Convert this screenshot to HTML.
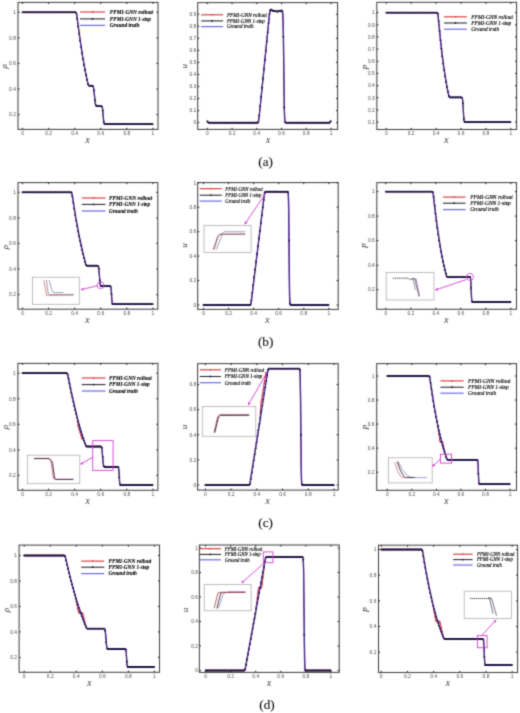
<!DOCTYPE html>
<html><head><meta charset="utf-8"><style>
html,body{margin:0;padding:0;background:#fff;width:520px;height:713px;overflow:hidden}
svg{display:block}

text{font-family:"Liberation Serif", "Times New Roman", serif}
.s{font-family:"Liberation Sans",Arial,sans-serif;fill:#4a4a4a}
</style></head><body><div id="w">
<svg width="520" height="713" viewBox="0 0 520 713">
<defs><filter id="bl" x="0" y="0" width="1" height="1" color-interpolation-filters="sRGB"><feConvolveMatrix order="3" kernelMatrix="1 4 1 4 16 4 1 4 1" divisor="36" edgeMode="duplicate"/></filter>
<marker id="mk" markerUnits="userSpaceOnUse" markerWidth="3" markerHeight="3" refX="1.5" refY="1.5" overflow="visible"><circle cx="1.5" cy="1.5" r="0.9" fill="#1a1440"/></marker>
<marker id="mr" markerUnits="userSpaceOnUse" markerWidth="3" markerHeight="3" refX="1.5" refY="1.5" overflow="visible"><circle cx="1.5" cy="1.5" r="0.7" fill="#c82828"/></marker></defs>
<g filter="url(#bl)"><rect width="520" height="713" fill="#fff"/>
<clipPath id="c0"><rect x="18" y="2.4" width="140" height="127.0"/></clipPath>
<g clip-path="url(#c0)">
<polyline points="22.5,12.3 75.0,12.3 75.6,12.3 76.0,12.5 76.3,13.0 76.6,14.2 76.9,16.3 79.9,38.5 82.8,57.5 85.4,71.9 88.0,84.1 88.4,85.0 88.7,85.5 89.0,85.6 92.3,85.8 92.9,86.2 93.2,86.9 93.6,88.1 93.9,90.2 95.2,102.6 95.5,104.3 95.9,105.3 96.2,105.8 96.8,106.1 101.4,106.3 101.7,106.4 102.0,106.8 102.4,108.0 102.7,110.5 103.7,121.6 104.0,123.2 104.3,123.9 104.7,124.1 105.6,124.2 152.9,124.2" fill="none" stroke="#e04a6a" stroke-width="1.35" stroke-linejoin="round"/>
<polyline points="22.5,12.3 23.5,12.3 24.5,12.3 25.4,12.3 26.4,12.3 27.4,12.3 28.4,12.3 29.3,12.3 30.3,12.3 31.3,12.3 32.3,12.3 33.3,12.3 34.2,12.3 35.2,12.3 36.2,12.3 37.2,12.3 38.1,12.3 39.1,12.3 40.1,12.3 41.1,12.3 42.1,12.3 43.0,12.3 44.0,12.3 45.0,12.3 46.0,12.3 47.0,12.3 47.9,12.3 48.9,12.3 49.9,12.3 50.9,12.3 51.8,12.3 52.8,12.3 53.8,12.3 54.8,12.3 55.8,12.3 56.7,12.3 57.7,12.3 58.7,12.3 59.7,12.3 60.6,12.3 61.6,12.3 62.6,12.3 63.6,12.3 64.6,12.3 65.5,12.3 66.5,12.3 67.5,12.3 68.5,12.3 69.4,12.3 70.4,12.3 71.4,12.3 72.4,12.3 73.4,12.3 74.3,12.3 75.3,12.3 76.3,13.0 77.3,18.8 78.2,26.5 79.2,33.8 80.2,40.7 81.2,47.3 82.2,53.5 83.1,59.4 84.1,65.0 85.1,70.2 86.1,75.2 87.0,79.8 88.0,84.1 89.0,85.6 90.0,85.7 91.0,85.7 91.9,85.7 92.9,86.2 93.9,90.2 94.9,100.0 95.9,105.3 96.8,106.1 97.8,106.2 98.8,106.2 99.8,106.2 100.7,106.2 101.7,106.4 102.7,110.5 103.7,121.6 104.7,124.1 105.6,124.2 106.6,124.2 107.6,124.2 108.6,124.2 109.5,124.2 110.5,124.2 111.5,124.2 112.5,124.2 113.5,124.2 114.4,124.2 115.4,124.2 116.4,124.2 117.4,124.2 118.3,124.2 119.3,124.2 120.3,124.2 121.3,124.2 122.3,124.2 123.2,124.2 124.2,124.2 125.2,124.2 126.2,124.2 127.1,124.2 128.1,124.2 129.1,124.2 130.1,124.2 131.1,124.2 132.0,124.2 133.0,124.2 134.0,124.2 135.0,124.2 135.9,124.2 136.9,124.2 137.9,124.2 138.9,124.2 139.9,124.2 140.8,124.2 141.8,124.2 142.8,124.2 143.8,124.2 144.8,124.2 145.7,124.2 146.7,124.2 147.7,124.2 148.7,124.2 149.6,124.2 150.6,124.2 151.6,124.2 152.6,124.2" fill="none" stroke="none" marker-start="url(#mr)" marker-mid="url(#mr)" marker-end="url(#mr)"/>
<polyline points="22.5,12.3 76.0,12.4 76.3,12.8 76.6,14.1 76.9,16.2 79.9,38.5 82.8,57.5 85.4,71.9 88.0,84.2 88.4,85.1 88.7,85.6 92.3,85.8 92.9,86.2 93.2,86.8 93.6,87.9 93.9,90.0 95.2,102.8 95.5,104.5 95.9,105.4 96.2,105.8 96.8,106.1 101.4,106.2 101.7,106.3 102.0,106.7 102.4,107.7 102.7,110.2 103.7,121.9 104.0,123.5 104.3,124.0 104.7,124.1 105.6,124.2 152.9,124.2" fill="none" stroke="#4a44c0" stroke-width="1.25" stroke-linejoin="round"/>
<polyline points="22.5,12.3 75.3,12.3 76.0,12.4 76.3,12.9 76.6,14.1 76.9,16.2 79.9,38.5 82.8,57.5 85.4,71.9 88.0,84.1 88.4,85.1 88.7,85.5 89.0,85.6 92.3,85.8 92.9,86.2 93.2,86.8 93.6,88.0 93.9,90.1 95.2,102.7 95.5,104.4 95.9,105.4 96.2,105.8 96.8,106.1 101.4,106.3 101.7,106.4 102.0,106.7 102.4,107.9 102.7,110.4 103.7,121.7 104.0,123.3 104.3,123.9 104.7,124.1 105.6,124.2 152.9,124.2" fill="none" stroke="#1c1648" stroke-width="0.45" stroke-linejoin="round"/>
<polyline points="22.5,12.3 23.5,12.3 24.5,12.3 25.4,12.3 26.4,12.3 27.4,12.3 28.4,12.3 29.3,12.3 30.3,12.3 31.3,12.3 32.3,12.3 33.3,12.3 34.2,12.3 35.2,12.3 36.2,12.3 37.2,12.3 38.1,12.3 39.1,12.3 40.1,12.3 41.1,12.3 42.1,12.3 43.0,12.3 44.0,12.3 45.0,12.3 46.0,12.3 47.0,12.3 47.9,12.3 48.9,12.3 49.9,12.3 50.9,12.3 51.8,12.3 52.8,12.3 53.8,12.3 54.8,12.3 55.8,12.3 56.7,12.3 57.7,12.3 58.7,12.3 59.7,12.3 60.6,12.3 61.6,12.3 62.6,12.3 63.6,12.3 64.6,12.3 65.5,12.3 66.5,12.3 67.5,12.3 68.5,12.3 69.4,12.3 70.4,12.3 71.4,12.3 72.4,12.3 73.4,12.3 74.3,12.3 75.3,12.3 76.3,12.9 77.3,18.8 78.2,26.5 79.2,33.8 80.2,40.7 81.2,47.3 82.2,53.5 83.1,59.4 84.1,65.0 85.1,70.2 86.1,75.2 87.0,79.8 88.0,84.1 89.0,85.6 90.0,85.7 91.0,85.7 91.9,85.7 92.9,86.2 93.9,90.1 94.9,100.1 95.9,105.4 96.8,106.1 97.8,106.2 98.8,106.2 99.8,106.2 100.7,106.2 101.7,106.4 102.7,110.4 103.7,121.7 104.7,124.1 105.6,124.2 106.6,124.2 107.6,124.2 108.6,124.2 109.5,124.2 110.5,124.2 111.5,124.2 112.5,124.2 113.5,124.2 114.4,124.2 115.4,124.2 116.4,124.2 117.4,124.2 118.3,124.2 119.3,124.2 120.3,124.2 121.3,124.2 122.3,124.2 123.2,124.2 124.2,124.2 125.2,124.2 126.2,124.2 127.1,124.2 128.1,124.2 129.1,124.2 130.1,124.2 131.1,124.2 132.0,124.2 133.0,124.2 134.0,124.2 135.0,124.2 135.9,124.2 136.9,124.2 137.9,124.2 138.9,124.2 139.9,124.2 140.8,124.2 141.8,124.2 142.8,124.2 143.8,124.2 144.8,124.2 145.7,124.2 146.7,124.2 147.7,124.2 148.7,124.2 149.6,124.2 150.6,124.2 151.6,124.2 152.6,124.2" fill="none" stroke="none" marker-start="url(#mk)" marker-mid="url(#mk)" marker-end="url(#mk)"/>
</g>
<rect x="18" y="2.4" width="140" height="127.0" fill="none" stroke="#444" stroke-width="1.05"/>
<text x="22.50" y="135.00" font-size="4.9" text-anchor="middle" class="s">0</text>
<text x="48.58" y="135.00" font-size="4.9" text-anchor="middle" class="s">0.2</text>
<text x="74.66" y="135.00" font-size="4.9" text-anchor="middle" class="s">0.4</text>
<text x="100.74" y="135.00" font-size="4.9" text-anchor="middle" class="s">0.6</text>
<text x="126.82" y="135.00" font-size="4.9" text-anchor="middle" class="s">0.8</text>
<text x="152.90" y="135.00" font-size="4.9" text-anchor="middle" class="s">1</text>
<text x="15.90" y="116.35" font-size="4.9" text-anchor="end" class="s">0.2</text>
<text x="15.90" y="90.77" font-size="4.9" text-anchor="end" class="s">0.4</text>
<text x="15.90" y="65.20" font-size="4.9" text-anchor="end" class="s">0.6</text>
<text x="15.90" y="39.62" font-size="4.9" text-anchor="end" class="s">0.8</text>
<text x="15.90" y="14.05" font-size="4.9" text-anchor="end" class="s">1</text>
<path d="M22.50 129.4v-1.6M22.50 2.4v1.6M48.58 129.4v-1.6M48.58 2.4v1.6M74.66 129.4v-1.6M74.66 2.4v1.6M100.74 129.4v-1.6M100.74 2.4v1.6M126.82 129.4v-1.6M126.82 2.4v1.6M152.90 129.4v-1.6M152.90 2.4v1.6M18 114.60h1.6M158 114.60h-1.6M18 89.02h1.6M158 89.02h-1.6M18 63.45h1.6M158 63.45h-1.6M18 37.87h1.6M158 37.87h-1.6M18 12.30h1.6M158 12.30h-1.6" stroke="#222" stroke-width="1"/>
<text x="7.5" y="66.3" font-size="9.2" font-style="italic" text-anchor="middle" fill="#333" transform="rotate(-90 7.5 66.3)">ρ</text>
<text x="87.70" y="143.20" font-size="9.6" font-style="italic" text-anchor="middle" fill="#3a3a3a">x</text>
<line x1="80" y1="12" x2="105" y2="12" stroke="#d82424" stroke-width="1.05"/>
<circle cx="92.50" cy="12" r="0.9" fill="#e04a6a"/>
<text x="109.7" y="13.8" font-size="5.3" font-style="italic" font-weight="bold" fill="#000" stroke="#000" stroke-width="0.1" textLength="43.4" lengthAdjust="spacingAndGlyphs">FFMI-GNN rollout</text>
<line x1="80" y1="18.9" x2="105" y2="18.9" stroke="#202020" stroke-width="1.05"/>
<circle cx="92.50" cy="18.9" r="0.9" fill="#1c1648"/>
<text x="109.7" y="20.7" font-size="5.3" font-style="italic" font-weight="bold" fill="#000" stroke="#000" stroke-width="0.1" textLength="41.3" lengthAdjust="spacingAndGlyphs">FFMI-GNN 1-step</text>
<line x1="80" y1="25.4" x2="105" y2="25.4" stroke="#6a6ae8" stroke-width="1.2"/>
<text x="109.7" y="27.2" font-size="5.3" font-style="italic" font-weight="bold" fill="#000" stroke="#000" stroke-width="0.1" textLength="29.9" lengthAdjust="spacingAndGlyphs">Ground truth</text>
<clipPath id="c1"><rect x="197.7" y="2.6" width="139.90000000000003" height="126.80000000000001"/></clipPath>
<g clip-path="url(#c1)">
<polyline points="207.3,121.3 207.6,121.5 208.2,122.5 208.5,122.6 209.2,122.7 257.1,122.7 257.7,122.7 258.0,122.5 258.3,121.9 258.6,120.5 259.3,115.3 269.5,14.2 270.1,10.6 270.4,9.9 270.7,9.6 271.0,9.4 271.3,9.6 272.6,10.7 275.3,11.0 277.2,11.6 279.0,11.0 281.5,10.5 281.8,10.6 282.1,10.9 282.4,11.8 282.8,14.6 283.1,22.1 283.4,37.7 284.3,106.4 284.6,116.7 284.9,120.9 285.2,122.2 285.5,122.6 286.5,122.7 328.8,122.7 329.5,122.6 329.8,122.5 330.7,121.1 331.0,120.9" fill="none" stroke="#e04a6a" stroke-width="1.35" stroke-linejoin="round"/>
<polyline points="207.3,121.3 208.2,122.5 209.2,122.7 210.1,122.7 211.0,122.7 211.9,122.7 212.9,122.7 213.8,122.7 214.7,122.7 215.6,122.7 216.6,122.7 217.5,122.7 218.4,122.7 219.4,122.7 220.3,122.7 221.2,122.7 222.1,122.7 223.1,122.7 224.0,122.7 224.9,122.7 225.9,122.7 226.8,122.7 227.7,122.7 228.6,122.7 229.6,122.7 230.5,122.7 231.4,122.7 232.3,122.7 233.3,122.7 234.2,122.7 235.1,122.7 236.1,122.7 237.0,122.7 237.9,122.7 238.8,122.7 239.8,122.7 240.7,122.7 241.6,122.7 242.6,122.7 243.5,122.7 244.4,122.7 245.3,122.7 246.3,122.7 247.2,122.7 248.1,122.7 249.0,122.7 250.0,122.7 250.9,122.7 251.8,122.7 252.8,122.7 253.7,122.7 254.6,122.7 255.5,122.7 256.5,122.7 257.4,122.7 258.3,121.9 259.3,115.3 260.2,106.1 261.1,96.9 262.0,87.7 263.0,78.5 263.9,69.3 264.8,60.0 265.7,50.8 266.7,41.6 267.6,32.4 268.5,23.2 269.5,14.2 270.4,9.9 271.3,9.6 272.2,10.5 273.2,10.9 274.1,10.9 275.0,11.0 276.0,11.2 276.9,11.6 277.8,11.5 278.7,11.1 279.7,10.9 280.6,10.8 281.5,10.5 282.4,11.8 283.4,37.7 284.3,106.4 285.2,122.2 286.2,122.7 287.1,122.7 288.0,122.7 288.9,122.7 289.9,122.7 290.8,122.7 291.7,122.7 292.7,122.7 293.6,122.7 294.5,122.7 295.4,122.7 296.4,122.7 297.3,122.7 298.2,122.7 299.1,122.7 300.1,122.7 301.0,122.7 301.9,122.7 302.9,122.7 303.8,122.7 304.7,122.7 305.6,122.7 306.6,122.7 307.5,122.7 308.4,122.7 309.4,122.7 310.3,122.7 311.2,122.7 312.1,122.7 313.1,122.7 314.0,122.7 314.9,122.7 315.8,122.7 316.8,122.7 317.7,122.7 318.6,122.7 319.6,122.7 320.5,122.7 321.4,122.7 322.3,122.7 323.3,122.7 324.2,122.7 325.1,122.7 326.1,122.7 327.0,122.7 327.9,122.7 328.8,122.7 329.8,122.5 330.7,121.1" fill="none" stroke="none" marker-start="url(#mr)" marker-mid="url(#mr)" marker-end="url(#mr)"/>
<polyline points="207.3,121.3 207.6,121.5 208.2,122.5 208.5,122.6 209.2,122.7 257.4,122.7 258.0,122.6 258.3,122.1 258.6,120.7 259.3,115.3 269.5,14.0 269.8,11.6 270.1,10.4 270.4,9.9 270.7,9.6 271.0,9.4 271.3,9.6 272.6,10.7 275.3,11.0 277.2,11.6 279.0,11.0 280.3,10.8 281.2,10.6 281.8,10.6 282.1,10.9 282.4,11.5 282.8,13.6 283.1,20.1 283.4,35.5 284.3,108.6 284.6,118.1 284.9,121.4 285.2,122.4 285.5,122.6 286.5,122.7 328.8,122.7 329.5,122.6 329.8,122.5 330.7,121.1 331.0,120.9" fill="none" stroke="#4a44c0" stroke-width="1.25" stroke-linejoin="round"/>
<polyline points="207.3,121.3 207.6,121.5 208.2,122.5 208.5,122.6 209.2,122.7 257.4,122.7 258.0,122.6 258.3,122.0 258.6,120.6 259.3,115.3 269.5,14.1 269.8,11.8 270.1,10.5 270.4,9.9 270.7,9.6 271.0,9.4 271.3,9.6 272.6,10.7 275.3,11.0 277.2,11.6 279.0,11.0 280.3,10.8 281.2,10.6 281.8,10.6 282.1,10.9 282.4,11.7 282.8,14.1 283.1,21.1 283.4,36.6 284.3,107.5 284.6,117.5 284.9,121.2 285.2,122.3 285.5,122.6 286.5,122.7 328.8,122.7 329.5,122.6 329.8,122.5 330.7,121.1 331.0,120.9" fill="none" stroke="#1c1648" stroke-width="0.45" stroke-linejoin="round"/>
<polyline points="207.3,121.3 208.2,122.5 209.2,122.7 210.1,122.7 211.0,122.7 211.9,122.7 212.9,122.7 213.8,122.7 214.7,122.7 215.6,122.7 216.6,122.7 217.5,122.7 218.4,122.7 219.4,122.7 220.3,122.7 221.2,122.7 222.1,122.7 223.1,122.7 224.0,122.7 224.9,122.7 225.9,122.7 226.8,122.7 227.7,122.7 228.6,122.7 229.6,122.7 230.5,122.7 231.4,122.7 232.3,122.7 233.3,122.7 234.2,122.7 235.1,122.7 236.1,122.7 237.0,122.7 237.9,122.7 238.8,122.7 239.8,122.7 240.7,122.7 241.6,122.7 242.6,122.7 243.5,122.7 244.4,122.7 245.3,122.7 246.3,122.7 247.2,122.7 248.1,122.7 249.0,122.7 250.0,122.7 250.9,122.7 251.8,122.7 252.8,122.7 253.7,122.7 254.6,122.7 255.5,122.7 256.5,122.7 257.4,122.7 258.3,122.0 259.3,115.3 260.2,106.1 261.1,96.9 262.0,87.7 263.0,78.5 263.9,69.3 264.8,60.0 265.7,50.8 266.7,41.6 267.6,32.4 268.5,23.2 269.5,14.1 270.4,9.9 271.3,9.6 272.2,10.5 273.2,10.9 274.1,10.9 275.0,11.0 276.0,11.2 276.9,11.6 277.8,11.5 278.7,11.1 279.7,10.9 280.6,10.8 281.5,10.5 282.4,11.7 283.4,36.6 284.3,107.5 285.2,122.3 286.2,122.7 287.1,122.7 288.0,122.7 288.9,122.7 289.9,122.7 290.8,122.7 291.7,122.7 292.7,122.7 293.6,122.7 294.5,122.7 295.4,122.7 296.4,122.7 297.3,122.7 298.2,122.7 299.1,122.7 300.1,122.7 301.0,122.7 301.9,122.7 302.9,122.7 303.8,122.7 304.7,122.7 305.6,122.7 306.6,122.7 307.5,122.7 308.4,122.7 309.4,122.7 310.3,122.7 311.2,122.7 312.1,122.7 313.1,122.7 314.0,122.7 314.9,122.7 315.8,122.7 316.8,122.7 317.7,122.7 318.6,122.7 319.6,122.7 320.5,122.7 321.4,122.7 322.3,122.7 323.3,122.7 324.2,122.7 325.1,122.7 326.1,122.7 327.0,122.7 327.9,122.7 328.8,122.7 329.8,122.5 330.7,121.1" fill="none" stroke="none" marker-start="url(#mk)" marker-mid="url(#mk)" marker-end="url(#mk)"/>
</g>
<rect x="197.7" y="2.6" width="139.90000000000003" height="126.80000000000001" fill="none" stroke="#444" stroke-width="1.05"/>
<text x="207.30" y="135.00" font-size="4.9" text-anchor="middle" class="s">0</text>
<text x="232.04" y="135.00" font-size="4.9" text-anchor="middle" class="s">0.2</text>
<text x="256.78" y="135.00" font-size="4.9" text-anchor="middle" class="s">0.4</text>
<text x="281.52" y="135.00" font-size="4.9" text-anchor="middle" class="s">0.6</text>
<text x="306.26" y="135.00" font-size="4.9" text-anchor="middle" class="s">0.8</text>
<text x="331.00" y="135.00" font-size="4.9" text-anchor="middle" class="s">1</text>
<text x="196.30" y="124.45" font-size="4.9" text-anchor="end" class="s">0</text>
<text x="196.30" y="112.39" font-size="4.9" text-anchor="end" class="s">0.1</text>
<text x="196.30" y="100.34" font-size="4.9" text-anchor="end" class="s">0.2</text>
<text x="196.30" y="88.28" font-size="4.9" text-anchor="end" class="s">0.3</text>
<text x="196.30" y="76.23" font-size="4.9" text-anchor="end" class="s">0.4</text>
<text x="196.30" y="64.17" font-size="4.9" text-anchor="end" class="s">0.5</text>
<text x="196.30" y="52.12" font-size="4.9" text-anchor="end" class="s">0.6</text>
<text x="196.30" y="40.06" font-size="4.9" text-anchor="end" class="s">0.7</text>
<text x="196.30" y="28.01" font-size="4.9" text-anchor="end" class="s">0.8</text>
<text x="196.30" y="15.95" font-size="4.9" text-anchor="end" class="s">0.9</text>
<path d="M207.30 129.4v-1.6M207.30 2.6v1.6M232.04 129.4v-1.6M232.04 2.6v1.6M256.78 129.4v-1.6M256.78 2.6v1.6M281.52 129.4v-1.6M281.52 2.6v1.6M306.26 129.4v-1.6M306.26 2.6v1.6M331.00 129.4v-1.6M331.00 2.6v1.6M197.7 122.70h1.6M337.6 122.70h-1.6M197.7 110.64h1.6M337.6 110.64h-1.6M197.7 98.59h1.6M337.6 98.59h-1.6M197.7 86.53h1.6M337.6 86.53h-1.6M197.7 74.48h1.6M337.6 74.48h-1.6M197.7 62.42h1.6M337.6 62.42h-1.6M197.7 50.37h1.6M337.6 50.37h-1.6M197.7 38.31h1.6M337.6 38.31h-1.6M197.7 26.26h1.6M337.6 26.26h-1.6M197.7 14.20h1.6M337.6 14.20h-1.6" stroke="#222" stroke-width="1"/>
<text x="186.6" y="66.3" font-size="9.2" font-style="italic" text-anchor="middle" fill="#333" transform="rotate(-90 186.6 66.3)">u</text>
<text x="268.10" y="143.20" font-size="9.6" font-style="italic" text-anchor="middle" fill="#3a3a3a">x</text>
<line x1="201.2" y1="14.8" x2="223.1" y2="14.8" stroke="#d82424" stroke-width="1.05"/>
<circle cx="212.15" cy="14.8" r="0.9" fill="#e04a6a"/>
<text x="226.9" y="16.6" font-size="5.3" font-style="italic" font-weight="normal" fill="#000" stroke="#000" stroke-width="0.14" textLength="40" lengthAdjust="spacingAndGlyphs">FFMI-GNN rollout</text>
<line x1="201.2" y1="20.9" x2="223.1" y2="20.9" stroke="#202020" stroke-width="1.05"/>
<circle cx="212.15" cy="20.9" r="0.9" fill="#1c1648"/>
<text x="226.9" y="22.7" font-size="5.3" font-style="italic" font-weight="normal" fill="#000" stroke="#000" stroke-width="0.14" textLength="38" lengthAdjust="spacingAndGlyphs">FFMI-GNN 1-step</text>
<line x1="201.2" y1="26.6" x2="223.1" y2="26.6" stroke="#6a6ae8" stroke-width="1.2"/>
<text x="226.9" y="28.400000000000002" font-size="5.3" font-style="italic" font-weight="normal" fill="#000" stroke="#000" stroke-width="0.14" textLength="26.6" lengthAdjust="spacingAndGlyphs">Ground truth</text>
<clipPath id="c2"><rect x="376.8" y="2.3" width="139.8" height="127.2"/></clipPath>
<g clip-path="url(#c2)">
<polyline points="386.3,12.6 436.4,12.6 437.0,12.6 437.3,12.8 437.7,13.5 438.0,15.2 441.1,45.9 443.6,66.0 446.1,82.0 447.6,90.2 448.9,95.9 449.2,96.8 449.5,97.2 449.8,97.4 461.0,97.4 461.6,97.4 461.9,97.6 462.2,98.2 462.6,99.9 462.9,103.3 463.8,118.5 464.1,120.8 464.4,121.7 464.7,122.0 465.7,122.1 510.8,122.1" fill="none" stroke="#e04a6a" stroke-width="1.35" stroke-linejoin="round"/>
<polyline points="386.3,12.6 387.2,12.6 388.2,12.6 389.1,12.6 390.0,12.6 391.0,12.6 391.9,12.6 392.8,12.6 393.8,12.6 394.7,12.6 395.6,12.6 396.6,12.6 397.5,12.6 398.4,12.6 399.4,12.6 400.3,12.6 401.2,12.6 402.2,12.6 403.1,12.6 404.0,12.6 405.0,12.6 405.9,12.6 406.8,12.6 407.8,12.6 408.7,12.6 409.6,12.6 410.6,12.6 411.5,12.6 412.4,12.6 413.4,12.6 414.3,12.6 415.2,12.6 416.2,12.6 417.1,12.6 418.0,12.6 419.0,12.6 419.9,12.6 420.8,12.6 421.8,12.6 422.7,12.6 423.7,12.6 424.6,12.6 425.5,12.6 426.5,12.6 427.4,12.6 428.3,12.6 429.3,12.6 430.2,12.6 431.1,12.6 432.1,12.6 433.0,12.6 433.9,12.6 434.9,12.6 435.8,12.6 436.7,12.6 437.7,13.5 438.6,21.1 439.5,31.0 440.5,40.2 441.4,48.7 442.3,56.5 443.3,63.7 444.2,70.3 445.1,76.4 446.1,82.0 447.0,87.1 447.9,91.7 448.9,95.9 449.8,97.4 450.7,97.4 451.7,97.4 452.6,97.4 453.5,97.4 454.5,97.4 455.4,97.4 456.3,97.4 457.3,97.4 458.2,97.4 459.1,97.4 460.1,97.4 461.0,97.4 461.9,97.6 462.9,103.3 463.8,118.5 464.7,122.0 465.7,122.1 466.6,122.1 467.5,122.1 468.5,122.1 469.4,122.1 470.3,122.1 471.3,122.1 472.2,122.1 473.1,122.1 474.1,122.1 475.0,122.1 475.9,122.1 476.9,122.1 477.8,122.1 478.7,122.1 479.7,122.1 480.6,122.1 481.5,122.1 482.5,122.1 483.4,122.1 484.3,122.1 485.3,122.1 486.2,122.1 487.1,122.1 488.1,122.1 489.0,122.1 489.9,122.1 490.9,122.1 491.8,122.1 492.7,122.1 493.7,122.1 494.6,122.1 495.5,122.1 496.5,122.1 497.4,122.1 498.4,122.1 499.3,122.1 500.2,122.1 501.2,122.1 502.1,122.1 503.0,122.1 504.0,122.1 504.9,122.1 505.8,122.1 506.8,122.1 507.7,122.1 508.6,122.1 509.6,122.1 510.5,122.1" fill="none" stroke="none" marker-start="url(#mr)" marker-mid="url(#mr)" marker-end="url(#mr)"/>
<polyline points="386.3,12.6 436.7,12.6 437.3,12.7 437.7,13.3 438.0,14.9 440.8,43.1 442.0,54.0 443.6,66.0 446.1,82.0 447.6,90.2 448.9,95.9 449.2,96.9 449.5,97.3 449.8,97.4 461.3,97.4 461.9,97.5 462.2,98.0 462.6,99.4 462.9,102.8 463.8,119.0 464.1,121.1 464.4,121.8 464.7,122.0 465.7,122.1 510.8,122.1" fill="none" stroke="#4a44c0" stroke-width="1.25" stroke-linejoin="round"/>
<polyline points="386.3,12.6 436.7,12.6 437.3,12.7 437.7,13.4 438.0,15.0 440.8,43.1 442.0,54.0 443.6,66.0 446.1,82.0 447.6,90.2 448.9,95.9 449.2,96.8 449.5,97.3 449.8,97.4 461.0,97.4 461.6,97.4 461.9,97.6 462.2,98.1 462.6,99.6 462.9,103.1 463.8,118.7 464.1,120.9 464.4,121.8 464.7,122.0 465.7,122.1 510.8,122.1" fill="none" stroke="#1c1648" stroke-width="0.45" stroke-linejoin="round"/>
<polyline points="386.3,12.6 387.2,12.6 388.2,12.6 389.1,12.6 390.0,12.6 391.0,12.6 391.9,12.6 392.8,12.6 393.8,12.6 394.7,12.6 395.6,12.6 396.6,12.6 397.5,12.6 398.4,12.6 399.4,12.6 400.3,12.6 401.2,12.6 402.2,12.6 403.1,12.6 404.0,12.6 405.0,12.6 405.9,12.6 406.8,12.6 407.8,12.6 408.7,12.6 409.6,12.6 410.6,12.6 411.5,12.6 412.4,12.6 413.4,12.6 414.3,12.6 415.2,12.6 416.2,12.6 417.1,12.6 418.0,12.6 419.0,12.6 419.9,12.6 420.8,12.6 421.8,12.6 422.7,12.6 423.7,12.6 424.6,12.6 425.5,12.6 426.5,12.6 427.4,12.6 428.3,12.6 429.3,12.6 430.2,12.6 431.1,12.6 432.1,12.6 433.0,12.6 433.9,12.6 434.9,12.6 435.8,12.6 436.7,12.6 437.7,13.4 438.6,21.1 439.5,31.0 440.5,40.2 441.4,48.7 442.3,56.5 443.3,63.7 444.2,70.3 445.1,76.4 446.1,82.0 447.0,87.1 447.9,91.7 448.9,95.9 449.8,97.4 450.7,97.4 451.7,97.4 452.6,97.4 453.5,97.4 454.5,97.4 455.4,97.4 456.3,97.4 457.3,97.4 458.2,97.4 459.1,97.4 460.1,97.4 461.0,97.4 461.9,97.6 462.9,103.1 463.8,118.7 464.7,122.0 465.7,122.1 466.6,122.1 467.5,122.1 468.5,122.1 469.4,122.1 470.3,122.1 471.3,122.1 472.2,122.1 473.1,122.1 474.1,122.1 475.0,122.1 475.9,122.1 476.9,122.1 477.8,122.1 478.7,122.1 479.7,122.1 480.6,122.1 481.5,122.1 482.5,122.1 483.4,122.1 484.3,122.1 485.3,122.1 486.2,122.1 487.1,122.1 488.1,122.1 489.0,122.1 489.9,122.1 490.9,122.1 491.8,122.1 492.7,122.1 493.7,122.1 494.6,122.1 495.5,122.1 496.5,122.1 497.4,122.1 498.4,122.1 499.3,122.1 500.2,122.1 501.2,122.1 502.1,122.1 503.0,122.1 504.0,122.1 504.9,122.1 505.8,122.1 506.8,122.1 507.7,122.1 508.6,122.1 509.6,122.1 510.5,122.1" fill="none" stroke="none" marker-start="url(#mk)" marker-mid="url(#mk)" marker-end="url(#mk)"/>
</g>
<rect x="376.8" y="2.3" width="139.8" height="127.2" fill="none" stroke="#444" stroke-width="1.05"/>
<text x="386.30" y="135.10" font-size="4.9" text-anchor="middle" class="s">0</text>
<text x="411.20" y="135.10" font-size="4.9" text-anchor="middle" class="s">0.2</text>
<text x="436.10" y="135.10" font-size="4.9" text-anchor="middle" class="s">0.4</text>
<text x="461.00" y="135.10" font-size="4.9" text-anchor="middle" class="s">0.6</text>
<text x="485.90" y="135.10" font-size="4.9" text-anchor="middle" class="s">0.8</text>
<text x="510.80" y="135.10" font-size="4.9" text-anchor="middle" class="s">1</text>
<text x="374.70" y="123.85" font-size="4.9" text-anchor="end" class="s">0.1</text>
<text x="374.70" y="111.68" font-size="4.9" text-anchor="end" class="s">0.2</text>
<text x="374.70" y="99.52" font-size="4.9" text-anchor="end" class="s">0.3</text>
<text x="374.70" y="87.35" font-size="4.9" text-anchor="end" class="s">0.4</text>
<text x="374.70" y="75.18" font-size="4.9" text-anchor="end" class="s">0.5</text>
<text x="374.70" y="63.02" font-size="4.9" text-anchor="end" class="s">0.6</text>
<text x="374.70" y="50.85" font-size="4.9" text-anchor="end" class="s">0.7</text>
<text x="374.70" y="38.68" font-size="4.9" text-anchor="end" class="s">0.8</text>
<text x="374.70" y="26.52" font-size="4.9" text-anchor="end" class="s">0.9</text>
<text x="374.70" y="14.35" font-size="4.9" text-anchor="end" class="s">1</text>
<path d="M386.30 129.5v-1.6M386.30 2.3v1.6M411.20 129.5v-1.6M411.20 2.3v1.6M436.10 129.5v-1.6M436.10 2.3v1.6M461.00 129.5v-1.6M461.00 2.3v1.6M485.90 129.5v-1.6M485.90 2.3v1.6M510.80 129.5v-1.6M510.80 2.3v1.6M376.8 122.10h1.6M516.6 122.10h-1.6M376.8 109.93h1.6M516.6 109.93h-1.6M376.8 97.77h1.6M516.6 97.77h-1.6M376.8 85.60h1.6M516.6 85.60h-1.6M376.8 73.43h1.6M516.6 73.43h-1.6M376.8 61.27h1.6M516.6 61.27h-1.6M376.8 49.10h1.6M516.6 49.10h-1.6M376.8 36.93h1.6M516.6 36.93h-1.6M376.8 24.77h1.6M516.6 24.77h-1.6M376.8 12.60h1.6M516.6 12.60h-1.6" stroke="#222" stroke-width="1"/>
<text x="366.5" y="67" font-size="9.2" font-style="italic" text-anchor="middle" fill="#333" transform="rotate(-90 366.5 67)">p</text>
<text x="446.50" y="143.30" font-size="9.6" font-style="italic" text-anchor="middle" fill="#3a3a3a">x</text>
<line x1="444" y1="16.8" x2="466.9" y2="16.8" stroke="#d82424" stroke-width="1.05"/>
<circle cx="455.45" cy="16.8" r="0.9" fill="#e04a6a"/>
<text x="471.3" y="18.6" font-size="5.3" font-style="italic" font-weight="normal" fill="#000" stroke="#000" stroke-width="0.14" textLength="41.8" lengthAdjust="spacingAndGlyphs">FFMI-GNN rollout</text>
<line x1="444" y1="23" x2="466.9" y2="23" stroke="#202020" stroke-width="1.05"/>
<circle cx="455.45" cy="23" r="0.9" fill="#1c1648"/>
<text x="471.3" y="24.8" font-size="5.3" font-style="italic" font-weight="normal" fill="#000" stroke="#000" stroke-width="0.14" textLength="40" lengthAdjust="spacingAndGlyphs">FFMI-GNN 1-step</text>
<line x1="444" y1="29.2" x2="466.9" y2="29.2" stroke="#6a6ae8" stroke-width="1.2"/>
<text x="471.3" y="31.0" font-size="5.3" font-style="italic" font-weight="normal" fill="#000" stroke="#000" stroke-width="0.14" textLength="27.9" lengthAdjust="spacingAndGlyphs">Ground truth</text>
<clipPath id="c3"><rect x="18" y="182.6" width="139.8" height="126.6"/></clipPath>
<g clip-path="url(#c3)">
<polyline points="22.5,192.3 70.4,192.3 71.1,192.3 71.4,192.5 71.7,193.2 72.1,194.5 75.6,217.0 79.2,236.4 82.5,251.5 85.7,264.1 86.1,265.0 86.4,265.4 86.7,265.6 97.2,265.7 97.8,265.8 98.1,266.0 98.5,266.8 98.8,268.5 99.8,280.2 100.1,283.4 100.4,285.1 100.7,285.8 101.4,286.2 109.9,286.2 110.5,286.4 110.8,287.1 111.2,289.4 111.8,299.3 112.2,302.6 112.5,303.9 112.8,304.2 113.5,304.2 152.9,304.2" fill="none" stroke="#e04a6a" stroke-width="1.35" stroke-linejoin="round"/>
<polyline points="22.5,192.3 23.5,192.3 24.5,192.3 25.4,192.3 26.4,192.3 27.4,192.3 28.4,192.3 29.3,192.3 30.3,192.3 31.3,192.3 32.3,192.3 33.3,192.3 34.2,192.3 35.2,192.3 36.2,192.3 37.2,192.3 38.1,192.3 39.1,192.3 40.1,192.3 41.1,192.3 42.1,192.3 43.0,192.3 44.0,192.3 45.0,192.3 46.0,192.3 47.0,192.3 47.9,192.3 48.9,192.3 49.9,192.3 50.9,192.3 51.8,192.3 52.8,192.3 53.8,192.3 54.8,192.3 55.8,192.3 56.7,192.3 57.7,192.3 58.7,192.3 59.7,192.3 60.6,192.3 61.6,192.3 62.6,192.3 63.6,192.3 64.6,192.3 65.5,192.3 66.5,192.3 67.5,192.3 68.5,192.3 69.4,192.3 70.4,192.3 71.4,192.5 72.4,196.4 73.4,202.8 74.3,209.1 75.3,215.1 76.3,220.8 77.3,226.2 78.2,231.5 79.2,236.4 80.2,241.2 81.2,245.7 82.2,250.1 83.1,254.2 84.1,258.1 85.1,261.9 86.1,265.0 87.0,265.7 88.0,265.7 89.0,265.7 90.0,265.7 91.0,265.7 91.9,265.7 92.9,265.7 93.9,265.7 94.9,265.7 95.9,265.7 96.8,265.7 97.8,265.8 98.8,268.5 99.8,280.2 100.7,285.8 101.7,286.2 102.7,286.2 103.7,286.2 104.7,286.2 105.6,286.2 106.6,286.2 107.6,286.2 108.6,286.2 109.5,286.2 110.5,286.4 111.5,294.0 112.5,303.9 113.5,304.2 114.4,304.2 115.4,304.2 116.4,304.2 117.4,304.2 118.3,304.2 119.3,304.2 120.3,304.2 121.3,304.2 122.3,304.2 123.2,304.2 124.2,304.2 125.2,304.2 126.2,304.2 127.1,304.2 128.1,304.2 129.1,304.2 130.1,304.2 131.1,304.2 132.0,304.2 133.0,304.2 134.0,304.2 135.0,304.2 135.9,304.2 136.9,304.2 137.9,304.2 138.9,304.2 139.9,304.2 140.8,304.2 141.8,304.2 142.8,304.2 143.8,304.2 144.8,304.2 145.7,304.2 146.7,304.2 147.7,304.2 148.7,304.2 149.6,304.2 150.6,304.2 151.6,304.2 152.6,304.2" fill="none" stroke="none" marker-start="url(#mr)" marker-mid="url(#mr)" marker-end="url(#mr)"/>
<polyline points="22.5,192.3 70.7,192.3 71.4,192.4 71.7,193.0 72.1,194.4 75.6,217.0 79.2,236.4 82.5,251.5 85.7,264.2 86.1,265.1 86.4,265.5 86.7,265.6 97.2,265.7 97.8,265.7 98.1,265.9 98.5,266.6 98.8,268.1 99.8,280.5 100.1,283.7 100.4,285.3 100.7,285.9 101.4,286.2 110.2,286.2 110.5,286.3 110.8,286.7 111.2,288.8 111.8,299.8 112.2,303.2 112.5,304.1 113.1,304.2 152.9,304.2" fill="none" stroke="#4a44c0" stroke-width="1.25" stroke-linejoin="round"/>
<polyline points="22.5,192.3 70.7,192.3 71.4,192.5 71.7,193.1 72.1,194.4 75.6,217.0 79.2,236.4 82.5,251.5 85.7,264.2 86.1,265.0 86.4,265.5 86.7,265.6 97.2,265.7 97.8,265.8 98.1,266.0 98.5,266.7 98.8,268.3 99.8,280.4 100.1,283.6 100.4,285.2 100.7,285.9 101.4,286.2 110.5,286.3 110.8,286.9 111.2,289.1 111.8,299.5 112.2,302.9 112.5,304.0 113.1,304.2 152.9,304.2" fill="none" stroke="#1c1648" stroke-width="0.45" stroke-linejoin="round"/>
<polyline points="22.5,192.3 23.5,192.3 24.5,192.3 25.4,192.3 26.4,192.3 27.4,192.3 28.4,192.3 29.3,192.3 30.3,192.3 31.3,192.3 32.3,192.3 33.3,192.3 34.2,192.3 35.2,192.3 36.2,192.3 37.2,192.3 38.1,192.3 39.1,192.3 40.1,192.3 41.1,192.3 42.1,192.3 43.0,192.3 44.0,192.3 45.0,192.3 46.0,192.3 47.0,192.3 47.9,192.3 48.9,192.3 49.9,192.3 50.9,192.3 51.8,192.3 52.8,192.3 53.8,192.3 54.8,192.3 55.8,192.3 56.7,192.3 57.7,192.3 58.7,192.3 59.7,192.3 60.6,192.3 61.6,192.3 62.6,192.3 63.6,192.3 64.6,192.3 65.5,192.3 66.5,192.3 67.5,192.3 68.5,192.3 69.4,192.3 70.4,192.3 71.4,192.5 72.4,196.4 73.4,202.8 74.3,209.1 75.3,215.1 76.3,220.8 77.3,226.2 78.2,231.5 79.2,236.4 80.2,241.2 81.2,245.7 82.2,250.1 83.1,254.2 84.1,258.1 85.1,261.9 86.1,265.0 87.0,265.7 88.0,265.7 89.0,265.7 90.0,265.7 91.0,265.7 91.9,265.7 92.9,265.7 93.9,265.7 94.9,265.7 95.9,265.7 96.8,265.7 97.8,265.8 98.8,268.3 99.8,280.4 100.7,285.9 101.7,286.2 102.7,286.2 103.7,286.2 104.7,286.2 105.6,286.2 106.6,286.2 107.6,286.2 108.6,286.2 109.5,286.2 110.5,286.3 111.5,293.9 112.5,304.0 113.5,304.2 114.4,304.2 115.4,304.2 116.4,304.2 117.4,304.2 118.3,304.2 119.3,304.2 120.3,304.2 121.3,304.2 122.3,304.2 123.2,304.2 124.2,304.2 125.2,304.2 126.2,304.2 127.1,304.2 128.1,304.2 129.1,304.2 130.1,304.2 131.1,304.2 132.0,304.2 133.0,304.2 134.0,304.2 135.0,304.2 135.9,304.2 136.9,304.2 137.9,304.2 138.9,304.2 139.9,304.2 140.8,304.2 141.8,304.2 142.8,304.2 143.8,304.2 144.8,304.2 145.7,304.2 146.7,304.2 147.7,304.2 148.7,304.2 149.6,304.2 150.6,304.2 151.6,304.2 152.6,304.2" fill="none" stroke="none" marker-start="url(#mk)" marker-mid="url(#mk)" marker-end="url(#mk)"/>
</g>
<rect x="18" y="182.6" width="139.8" height="126.6" fill="none" stroke="#444" stroke-width="1.05"/>
<text x="22.50" y="314.80" font-size="4.9" text-anchor="middle" class="s">0</text>
<text x="48.58" y="314.80" font-size="4.9" text-anchor="middle" class="s">0.2</text>
<text x="74.66" y="314.80" font-size="4.9" text-anchor="middle" class="s">0.4</text>
<text x="100.74" y="314.80" font-size="4.9" text-anchor="middle" class="s">0.6</text>
<text x="126.82" y="314.80" font-size="4.9" text-anchor="middle" class="s">0.8</text>
<text x="152.90" y="314.80" font-size="4.9" text-anchor="middle" class="s">1</text>
<text x="15.90" y="296.35" font-size="4.9" text-anchor="end" class="s">0.2</text>
<text x="15.90" y="270.77" font-size="4.9" text-anchor="end" class="s">0.4</text>
<text x="15.90" y="245.20" font-size="4.9" text-anchor="end" class="s">0.6</text>
<text x="15.90" y="219.62" font-size="4.9" text-anchor="end" class="s">0.8</text>
<text x="15.90" y="194.05" font-size="4.9" text-anchor="end" class="s">1</text>
<path d="M22.50 309.2v-1.6M22.50 182.6v1.6M48.58 309.2v-1.6M48.58 182.6v1.6M74.66 309.2v-1.6M74.66 182.6v1.6M100.74 309.2v-1.6M100.74 182.6v1.6M126.82 309.2v-1.6M126.82 182.6v1.6M152.90 309.2v-1.6M152.90 182.6v1.6M18 294.60h1.6M157.8 294.60h-1.6M18 269.02h1.6M157.8 269.02h-1.6M18 243.45h1.6M157.8 243.45h-1.6M18 217.88h1.6M157.8 217.88h-1.6M18 192.30h1.6M157.8 192.30h-1.6" stroke="#222" stroke-width="1"/>
<text x="7.5" y="247" font-size="9.2" font-style="italic" text-anchor="middle" fill="#333" transform="rotate(-90 7.5 247)">ρ</text>
<text x="87.50" y="323.00" font-size="9.6" font-style="italic" text-anchor="middle" fill="#3a3a3a">x</text>
<line x1="81.8" y1="198" x2="105.5" y2="198" stroke="#d82424" stroke-width="1.05"/>
<circle cx="93.65" cy="198" r="0.9" fill="#e04a6a"/>
<text x="108.9" y="199.8" font-size="5.3" font-style="italic" font-weight="bold" fill="#000" stroke="#000" stroke-width="0.1" textLength="43.3" lengthAdjust="spacingAndGlyphs">FFMI-GNN rollout</text>
<line x1="81.8" y1="204.4" x2="105.5" y2="204.4" stroke="#202020" stroke-width="1.05"/>
<circle cx="93.65" cy="204.4" r="0.9" fill="#1c1648"/>
<text x="108.9" y="206.20000000000002" font-size="5.3" font-style="italic" font-weight="bold" fill="#000" stroke="#000" stroke-width="0.1" textLength="41.2" lengthAdjust="spacingAndGlyphs">FFMI-GNN 1-step</text>
<line x1="81.8" y1="211" x2="105.5" y2="211" stroke="#6a6ae8" stroke-width="1.2"/>
<text x="108.9" y="212.8" font-size="5.3" font-style="italic" font-weight="bold" fill="#000" stroke="#000" stroke-width="0.1" textLength="28.9" lengthAdjust="spacingAndGlyphs">Ground truth</text>
<rect x="32.4" y="277.2" width="46.9" height="27.100000000000023" fill="#fff" stroke="#ababab" stroke-width="0.75"/>
<polyline points="43.8,280.2 46.6,295.6 48.2,295.2 73.4,294.9" fill="none" stroke="#d46a7a" stroke-width="0.8" stroke-linejoin="round"/>
<polyline points="46.5,280.2 48.2,293.6 49.6,294.8 73.4,294.8" fill="none" stroke="#3a2a40" stroke-width="0.8" stroke-dasharray="1.2 0.8" stroke-linejoin="round"/>
<polyline points="49.2,280.2 51.6,289.6 53.2,292.3 55.5,292.6 63.4,292.6" fill="none" stroke="#8888a8" stroke-width="0.8" stroke-linejoin="round"/>
<circle cx="100.6" cy="285.3" r="3.4" fill="none" stroke="#d23cd2" stroke-width="0.8"/>
<line x1="97.6" y1="285.6" x2="83.61" y2="289.04" stroke="#d23cd2" stroke-width="0.9"/>
<polygon points="80.5,289.8 83.27,287.68 83.94,290.40" fill="#d23cd2"/>
<clipPath id="c4"><rect x="197.7" y="182.6" width="140.5" height="126.79999999999998"/></clipPath>
<g clip-path="url(#c4)">
<polyline points="203.5,305.0 249.5,305.0 250.2,305.0 250.5,304.8 250.8,304.0 251.1,302.5 251.7,297.8 264.3,195.0 264.6,193.2 264.9,192.1 265.2,191.8 266.5,191.7 287.5,191.7 287.8,191.8 288.1,192.6 288.4,197.1 288.7,212.0 289.6,295.2 290.0,303.1 290.3,304.8 290.6,305.0 290.9,305.0 328.8,305.0" fill="none" stroke="#e04a6a" stroke-width="1.35" stroke-linejoin="round"/>
<polyline points="203.5,305.0 204.4,305.0 205.4,305.0 206.3,305.0 207.3,305.0 208.2,305.0 209.1,305.0 210.1,305.0 211.0,305.0 212.0,305.0 212.9,305.0 213.8,305.0 214.8,305.0 215.7,305.0 216.7,305.0 217.6,305.0 218.5,305.0 219.5,305.0 220.4,305.0 221.4,305.0 222.3,305.0 223.2,305.0 224.2,305.0 225.1,305.0 226.1,305.0 227.0,305.0 227.9,305.0 228.9,305.0 229.8,305.0 230.8,305.0 231.7,305.0 232.6,305.0 233.6,305.0 234.5,305.0 235.5,305.0 236.4,305.0 237.3,305.0 238.3,305.0 239.2,305.0 240.2,305.0 241.1,305.0 242.0,305.0 243.0,305.0 243.9,305.0 244.8,305.0 245.8,305.0 246.7,305.0 247.7,305.0 248.6,305.0 249.5,305.0 250.5,304.8 251.4,300.3 252.4,292.6 253.3,284.9 254.2,277.2 255.2,269.5 256.1,261.7 257.1,254.0 258.0,246.3 258.9,238.5 259.9,230.8 260.8,223.1 261.8,215.4 262.7,207.6 263.6,199.9 264.6,193.2 265.5,191.7 266.5,191.7 267.4,191.7 268.3,191.7 269.3,191.7 270.2,191.7 271.2,191.7 272.1,191.7 273.0,191.7 274.0,191.7 274.9,191.7 275.9,191.7 276.8,191.7 277.7,191.7 278.7,191.7 279.6,191.7 280.6,191.7 281.5,191.7 282.4,191.7 283.4,191.7 284.3,191.7 285.3,191.7 286.2,191.7 287.1,191.7 288.1,192.6 289.0,241.0 290.0,303.1 290.9,305.0 291.8,305.0 292.8,305.0 293.7,305.0 294.7,305.0 295.6,305.0 296.5,305.0 297.5,305.0 298.4,305.0 299.4,305.0 300.3,305.0 301.2,305.0 302.2,305.0 303.1,305.0 304.1,305.0 305.0,305.0 305.9,305.0 306.9,305.0 307.8,305.0 308.8,305.0 309.7,305.0 310.6,305.0 311.6,305.0 312.5,305.0 313.5,305.0 314.4,305.0 315.3,305.0 316.3,305.0 317.2,305.0 318.1,305.0 319.1,305.0 320.0,305.0 321.0,305.0 321.9,305.0 322.8,305.0 323.8,305.0 324.7,305.0 325.7,305.0 326.6,305.0 327.5,305.0 328.5,305.0" fill="none" stroke="none" marker-start="url(#mr)" marker-mid="url(#mr)" marker-end="url(#mr)"/>
<polyline points="203.5,305.0 249.9,305.0 250.5,304.9 250.8,304.2 251.4,300.3 264.3,194.9 264.6,193.0 264.9,192.0 265.2,191.7 266.1,191.7 287.5,191.7 287.8,191.7 288.1,192.0 288.4,194.7 288.7,208.0 289.3,277.3 289.6,298.6 290.0,304.2 290.3,304.9 328.8,305.0" fill="none" stroke="#4a44c0" stroke-width="1.25" stroke-linejoin="round"/>
<polyline points="203.5,305.0 249.9,305.0 250.5,304.8 250.8,304.1 251.4,300.3 264.3,194.9 264.6,193.1 264.9,192.1 265.2,191.7 266.1,191.7 287.5,191.7 287.8,191.7 288.1,192.2 288.4,195.8 288.7,210.1 289.3,275.5 289.6,296.9 290.0,303.7 290.3,304.9 290.9,305.0 328.8,305.0" fill="none" stroke="#1c1648" stroke-width="0.45" stroke-linejoin="round"/>
<polyline points="203.5,305.0 204.4,305.0 205.4,305.0 206.3,305.0 207.3,305.0 208.2,305.0 209.1,305.0 210.1,305.0 211.0,305.0 212.0,305.0 212.9,305.0 213.8,305.0 214.8,305.0 215.7,305.0 216.7,305.0 217.6,305.0 218.5,305.0 219.5,305.0 220.4,305.0 221.4,305.0 222.3,305.0 223.2,305.0 224.2,305.0 225.1,305.0 226.1,305.0 227.0,305.0 227.9,305.0 228.9,305.0 229.8,305.0 230.8,305.0 231.7,305.0 232.6,305.0 233.6,305.0 234.5,305.0 235.5,305.0 236.4,305.0 237.3,305.0 238.3,305.0 239.2,305.0 240.2,305.0 241.1,305.0 242.0,305.0 243.0,305.0 243.9,305.0 244.8,305.0 245.8,305.0 246.7,305.0 247.7,305.0 248.6,305.0 249.5,305.0 250.5,304.8 251.4,300.3 252.4,292.6 253.3,284.9 254.2,277.2 255.2,269.5 256.1,261.7 257.1,254.0 258.0,246.3 258.9,238.5 259.9,230.8 260.8,223.1 261.8,215.4 262.7,207.6 263.6,199.9 264.6,193.1 265.5,191.7 266.5,191.7 267.4,191.7 268.3,191.7 269.3,191.7 270.2,191.7 271.2,191.7 272.1,191.7 273.0,191.7 274.0,191.7 274.9,191.7 275.9,191.7 276.8,191.7 277.7,191.7 278.7,191.7 279.6,191.7 280.6,191.7 281.5,191.7 282.4,191.7 283.4,191.7 284.3,191.7 285.3,191.7 286.2,191.7 287.1,191.7 288.1,192.2 289.0,240.4 290.0,303.7 290.9,305.0 291.8,305.0 292.8,305.0 293.7,305.0 294.7,305.0 295.6,305.0 296.5,305.0 297.5,305.0 298.4,305.0 299.4,305.0 300.3,305.0 301.2,305.0 302.2,305.0 303.1,305.0 304.1,305.0 305.0,305.0 305.9,305.0 306.9,305.0 307.8,305.0 308.8,305.0 309.7,305.0 310.6,305.0 311.6,305.0 312.5,305.0 313.5,305.0 314.4,305.0 315.3,305.0 316.3,305.0 317.2,305.0 318.1,305.0 319.1,305.0 320.0,305.0 321.0,305.0 321.9,305.0 322.8,305.0 323.8,305.0 324.7,305.0 325.7,305.0 326.6,305.0 327.5,305.0 328.5,305.0" fill="none" stroke="none" marker-start="url(#mk)" marker-mid="url(#mk)" marker-end="url(#mk)"/>
</g>
<rect x="197.7" y="182.6" width="140.5" height="126.79999999999998" fill="none" stroke="#444" stroke-width="1.05"/>
<text x="203.50" y="315.00" font-size="4.9" text-anchor="middle" class="s">0</text>
<text x="228.56" y="315.00" font-size="4.9" text-anchor="middle" class="s">0.2</text>
<text x="253.62" y="315.00" font-size="4.9" text-anchor="middle" class="s">0.4</text>
<text x="278.68" y="315.00" font-size="4.9" text-anchor="middle" class="s">0.6</text>
<text x="303.74" y="315.00" font-size="4.9" text-anchor="middle" class="s">0.8</text>
<text x="328.80" y="315.00" font-size="4.9" text-anchor="middle" class="s">1</text>
<text x="196.30" y="306.75" font-size="4.9" text-anchor="end" class="s">0</text>
<text x="196.30" y="282.31" font-size="4.9" text-anchor="end" class="s">0.2</text>
<text x="196.30" y="257.87" font-size="4.9" text-anchor="end" class="s">0.4</text>
<text x="196.30" y="233.43" font-size="4.9" text-anchor="end" class="s">0.6</text>
<text x="196.30" y="208.99" font-size="4.9" text-anchor="end" class="s">0.8</text>
<text x="196.30" y="184.55" font-size="4.9" text-anchor="end" class="s">1</text>
<path d="M203.50 309.4v-1.6M203.50 182.6v1.6M228.56 309.4v-1.6M228.56 182.6v1.6M253.62 309.4v-1.6M253.62 182.6v1.6M278.68 309.4v-1.6M278.68 182.6v1.6M303.74 309.4v-1.6M303.74 182.6v1.6M328.80 309.4v-1.6M328.80 182.6v1.6M197.7 305.00h1.6M338.2 305.00h-1.6M197.7 280.56h1.6M338.2 280.56h-1.6M197.7 256.12h1.6M338.2 256.12h-1.6M197.7 231.68h1.6M338.2 231.68h-1.6M197.7 207.24h1.6M338.2 207.24h-1.6M197.7 182.80h1.6M338.2 182.80h-1.6" stroke="#222" stroke-width="1"/>
<text x="186.6" y="245.5" font-size="9.2" font-style="italic" text-anchor="middle" fill="#333" transform="rotate(-90 186.6 245.5)">u</text>
<text x="267.50" y="323.20" font-size="9.6" font-style="italic" text-anchor="middle" fill="#3a3a3a">x</text>
<line x1="199.8" y1="188.7" x2="221.8" y2="188.7" stroke="#d82424" stroke-width="1.05"/>
<circle cx="210.80" cy="188.7" r="0.9" fill="#e04a6a"/>
<text x="225.3" y="190.5" font-size="5.3" font-style="italic" font-weight="normal" fill="#000" stroke="#000" stroke-width="0.14" textLength="37.5" lengthAdjust="spacingAndGlyphs">FFMI-GNN rollout</text>
<line x1="199.8" y1="195.2" x2="221.8" y2="195.2" stroke="#202020" stroke-width="1.05"/>
<circle cx="210.80" cy="195.2" r="0.9" fill="#1c1648"/>
<text x="225.3" y="197.0" font-size="5.3" font-style="italic" font-weight="normal" fill="#000" stroke="#000" stroke-width="0.14" textLength="36" lengthAdjust="spacingAndGlyphs">FFMI-GNN 1-step</text>
<line x1="199.8" y1="201.1" x2="221.8" y2="201.1" stroke="#6a6ae8" stroke-width="1.2"/>
<text x="225.3" y="202.9" font-size="5.3" font-style="italic" font-weight="normal" fill="#000" stroke="#000" stroke-width="0.14" textLength="25" lengthAdjust="spacingAndGlyphs">Ground truth</text>
<rect x="204" y="225.4" width="47.099999999999994" height="27.0" fill="#fff" stroke="#ababab" stroke-width="0.75"/>
<polyline points="216.5,249.5 222.6,233.2 224.3,231.7 245.3,231.7" fill="none" stroke="#8888a8" stroke-width="0.8" stroke-linejoin="round"/>
<polyline points="213.2,249.5 217,238 218.2,235.6 220,234.3 245.3,234.1" fill="none" stroke="#d46a7a" stroke-width="0.8" stroke-linejoin="round"/>
<polyline points="214.1,249.5 218.2,236.2 219.6,234.6 221,234.1 245.3,234.1" fill="none" stroke="#3a2a40" stroke-width="0.9" stroke-dasharray="1.3 0.7" stroke-linejoin="round"/>
<line x1="265.5" y1="193.5" x2="246.19" y2="222.05" stroke="#d23cd2" stroke-width="0.9"/>
<polygon points="244.4,224.7 245.03,221.26 247.35,222.83" fill="#d23cd2"/>
<clipPath id="c5"><rect x="376.8" y="182.6" width="139.7" height="126.70000000000002"/></clipPath>
<g clip-path="url(#c5)">
<polyline points="385.8,191.6 431.7,191.6 432.4,191.6 432.7,191.9 433.0,192.8 433.3,194.5 435.5,213.5 437.4,228.0 440.2,246.4 442.1,256.7 443.9,265.7 446.1,274.5 446.7,276.4 447.1,276.8 447.7,277.0 469.6,277.1 470.2,277.2 470.5,278.2 470.8,281.5 471.7,299.8 472.1,301.5 472.4,301.9 510.8,302.0" fill="none" stroke="#e04a6a" stroke-width="1.35" stroke-linejoin="round"/>
<polyline points="385.8,191.6 386.7,191.6 387.7,191.6 388.6,191.6 389.6,191.6 390.5,191.6 391.4,191.6 392.4,191.6 393.3,191.6 394.2,191.6 395.2,191.6 396.1,191.6 397.1,191.6 398.0,191.6 398.9,191.6 399.9,191.6 400.8,191.6 401.7,191.6 402.7,191.6 403.6,191.6 404.6,191.6 405.5,191.6 406.4,191.6 407.4,191.6 408.3,191.6 409.2,191.6 410.2,191.6 411.1,191.6 412.1,191.6 413.0,191.6 413.9,191.6 414.9,191.6 415.8,191.6 416.7,191.6 417.7,191.6 418.6,191.6 419.6,191.6 420.5,191.6 421.4,191.6 422.4,191.6 423.3,191.6 424.2,191.6 425.2,191.6 426.1,191.6 427.1,191.6 428.0,191.6 428.9,191.6 429.9,191.6 430.8,191.6 431.7,191.6 432.7,191.9 433.6,197.1 434.6,205.5 435.5,213.5 436.4,221.0 437.4,228.0 438.3,234.6 439.2,240.7 440.2,246.4 441.1,251.8 442.1,256.7 443.0,261.4 443.9,265.7 444.9,269.7 445.8,273.4 446.7,276.4 447.7,277.0 448.6,277.1 449.6,277.1 450.5,277.1 451.4,277.1 452.4,277.1 453.3,277.1 454.2,277.1 455.2,277.1 456.1,277.1 457.1,277.1 458.0,277.1 458.9,277.1 459.9,277.1 460.8,277.1 461.7,277.1 462.7,277.1 463.6,277.1 464.6,277.1 465.5,277.1 466.4,277.1 467.4,277.1 468.3,277.1 469.2,277.1 470.2,277.2 471.1,287.9 472.1,301.5 473.0,302.0 473.9,302.0 474.9,302.0 475.8,302.0 476.7,302.0 477.7,302.0 478.6,302.0 479.6,302.0 480.5,302.0 481.4,302.0 482.4,302.0 483.3,302.0 484.2,302.0 485.2,302.0 486.1,302.0 487.1,302.0 488.0,302.0 488.9,302.0 489.9,302.0 490.8,302.0 491.7,302.0 492.7,302.0 493.6,302.0 494.6,302.0 495.5,302.0 496.4,302.0 497.4,302.0 498.3,302.0 499.2,302.0 500.2,302.0 501.1,302.0 502.1,302.0 503.0,302.0 503.9,302.0 504.9,302.0 505.8,302.0 506.7,302.0 507.7,302.0 508.6,302.0 509.6,302.0 510.5,302.0" fill="none" stroke="none" marker-start="url(#mr)" marker-mid="url(#mr)" marker-end="url(#mr)"/>
<polyline points="385.8,191.6 432.1,191.6 432.7,191.8 433.0,192.5 433.3,194.4 435.2,210.9 436.7,223.4 438.3,234.6 439.9,244.6 441.4,253.5 443.3,262.8 445.2,270.9 446.7,276.5 447.1,276.9 447.7,277.1 470.2,277.1 470.5,277.7 470.8,280.7 471.4,295.9 471.7,300.5 472.1,301.8 472.4,301.9 510.8,302.0" fill="none" stroke="#4a44c0" stroke-width="1.25" stroke-linejoin="round"/>
<polyline points="385.8,191.6 432.1,191.6 432.4,191.6 432.7,191.8 433.0,192.6 433.3,194.5 436.7,223.4 438.3,234.6 439.9,244.6 441.4,253.5 443.3,262.8 445.2,270.9 446.1,274.5 446.7,276.4 447.1,276.9 447.7,277.1 469.6,277.1 470.2,277.2 470.5,278.0 470.8,281.1 471.4,295.5 471.7,300.2 472.1,301.7 472.4,301.9 510.8,302.0" fill="none" stroke="#1c1648" stroke-width="0.45" stroke-linejoin="round"/>
<polyline points="385.8,191.6 386.7,191.6 387.7,191.6 388.6,191.6 389.6,191.6 390.5,191.6 391.4,191.6 392.4,191.6 393.3,191.6 394.2,191.6 395.2,191.6 396.1,191.6 397.1,191.6 398.0,191.6 398.9,191.6 399.9,191.6 400.8,191.6 401.7,191.6 402.7,191.6 403.6,191.6 404.6,191.6 405.5,191.6 406.4,191.6 407.4,191.6 408.3,191.6 409.2,191.6 410.2,191.6 411.1,191.6 412.1,191.6 413.0,191.6 413.9,191.6 414.9,191.6 415.8,191.6 416.7,191.6 417.7,191.6 418.6,191.6 419.6,191.6 420.5,191.6 421.4,191.6 422.4,191.6 423.3,191.6 424.2,191.6 425.2,191.6 426.1,191.6 427.1,191.6 428.0,191.6 428.9,191.6 429.9,191.6 430.8,191.6 431.7,191.6 432.7,191.8 433.6,197.0 434.6,205.5 435.5,213.5 436.4,221.0 437.4,228.0 438.3,234.6 439.2,240.7 440.2,246.4 441.1,251.8 442.1,256.7 443.0,261.4 443.9,265.7 444.9,269.7 445.8,273.4 446.7,276.4 447.7,277.1 448.6,277.1 449.6,277.1 450.5,277.1 451.4,277.1 452.4,277.1 453.3,277.1 454.2,277.1 455.2,277.1 456.1,277.1 457.1,277.1 458.0,277.1 458.9,277.1 459.9,277.1 460.8,277.1 461.7,277.1 462.7,277.1 463.6,277.1 464.6,277.1 465.5,277.1 466.4,277.1 467.4,277.1 468.3,277.1 469.2,277.1 470.2,277.2 471.1,287.8 472.1,301.7 473.0,302.0 473.9,302.0 474.9,302.0 475.8,302.0 476.7,302.0 477.7,302.0 478.6,302.0 479.6,302.0 480.5,302.0 481.4,302.0 482.4,302.0 483.3,302.0 484.2,302.0 485.2,302.0 486.1,302.0 487.1,302.0 488.0,302.0 488.9,302.0 489.9,302.0 490.8,302.0 491.7,302.0 492.7,302.0 493.6,302.0 494.6,302.0 495.5,302.0 496.4,302.0 497.4,302.0 498.3,302.0 499.2,302.0 500.2,302.0 501.1,302.0 502.1,302.0 503.0,302.0 503.9,302.0 504.9,302.0 505.8,302.0 506.7,302.0 507.7,302.0 508.6,302.0 509.6,302.0 510.5,302.0" fill="none" stroke="none" marker-start="url(#mk)" marker-mid="url(#mk)" marker-end="url(#mk)"/>
</g>
<rect x="376.8" y="182.6" width="139.7" height="126.70000000000002" fill="none" stroke="#444" stroke-width="1.05"/>
<text x="385.80" y="314.90" font-size="4.9" text-anchor="middle" class="s">0</text>
<text x="410.80" y="314.90" font-size="4.9" text-anchor="middle" class="s">0.2</text>
<text x="435.80" y="314.90" font-size="4.9" text-anchor="middle" class="s">0.4</text>
<text x="460.80" y="314.90" font-size="4.9" text-anchor="middle" class="s">0.6</text>
<text x="485.80" y="314.90" font-size="4.9" text-anchor="middle" class="s">0.8</text>
<text x="510.80" y="314.90" font-size="4.9" text-anchor="middle" class="s">1</text>
<text x="374.70" y="291.45" font-size="4.9" text-anchor="end" class="s">0.2</text>
<text x="374.70" y="266.92" font-size="4.9" text-anchor="end" class="s">0.4</text>
<text x="374.70" y="242.40" font-size="4.9" text-anchor="end" class="s">0.6</text>
<text x="374.70" y="217.88" font-size="4.9" text-anchor="end" class="s">0.8</text>
<text x="374.70" y="193.35" font-size="4.9" text-anchor="end" class="s">1</text>
<path d="M385.80 309.3v-1.6M385.80 182.6v1.6M410.80 309.3v-1.6M410.80 182.6v1.6M435.80 309.3v-1.6M435.80 182.6v1.6M460.80 309.3v-1.6M460.80 182.6v1.6M485.80 309.3v-1.6M485.80 182.6v1.6M510.80 309.3v-1.6M510.80 182.6v1.6M376.8 289.70h1.6M516.5 289.70h-1.6M376.8 265.17h1.6M516.5 265.17h-1.6M376.8 240.65h1.6M516.5 240.65h-1.6M376.8 216.12h1.6M516.5 216.12h-1.6M376.8 191.60h1.6M516.5 191.60h-1.6" stroke="#222" stroke-width="1"/>
<text x="365.7" y="245.5" font-size="9.2" font-style="italic" text-anchor="middle" fill="#333" transform="rotate(-90 365.7 245.5)">p</text>
<text x="446.50" y="323.10" font-size="9.6" font-style="italic" text-anchor="middle" fill="#3a3a3a">x</text>
<line x1="443" y1="197.1" x2="465.5" y2="197.1" stroke="#d82424" stroke-width="1.05"/>
<circle cx="454.25" cy="197.1" r="0.9" fill="#e04a6a"/>
<text x="470.2" y="198.9" font-size="5.3" font-style="italic" font-weight="normal" fill="#000" stroke="#000" stroke-width="0.14" textLength="42.5" lengthAdjust="spacingAndGlyphs">FFMI-GNN rollout</text>
<line x1="443" y1="203.2" x2="465.5" y2="203.2" stroke="#202020" stroke-width="1.05"/>
<circle cx="454.25" cy="203.2" r="0.9" fill="#1c1648"/>
<text x="470.2" y="205.0" font-size="5.3" font-style="italic" font-weight="normal" fill="#000" stroke="#000" stroke-width="0.14" textLength="40.6" lengthAdjust="spacingAndGlyphs">FFMI-GNN 1-step</text>
<line x1="443" y1="209.6" x2="465.5" y2="209.6" stroke="#6a6ae8" stroke-width="1.2"/>
<text x="470.2" y="211.4" font-size="5.3" font-style="italic" font-weight="normal" fill="#000" stroke="#000" stroke-width="0.14" textLength="28.4" lengthAdjust="spacingAndGlyphs">Ground truth</text>
<rect x="386.2" y="272.5" width="47.80000000000001" height="27.5" fill="#fff" stroke="#ababab" stroke-width="0.75"/>
<polyline points="411,279 413,279 415.3,290" fill="none" stroke="#8888a8" stroke-width="0.8" stroke-linejoin="round"/>
<polyline points="413,279 416,279 419.5,296" fill="none" stroke="#8a70b0" stroke-width="0.9" stroke-linejoin="round"/>
<polyline points="393,278.2 408,278.2 410,279.8 411.5,278.6 414.5,278.6 419,296.5" fill="none" stroke="#3a2a40" stroke-width="0.9" stroke-dasharray="1.3 0.7" stroke-linejoin="round"/>
<circle cx="470" cy="276.9" r="3.5" fill="none" stroke="#d23cd2" stroke-width="0.8"/>
<line x1="466.5" y1="279.5" x2="437.83" y2="289.18" stroke="#d23cd2" stroke-width="0.9"/>
<polygon points="434.8,290.2 437.38,287.85 438.28,290.50" fill="#d23cd2"/>
<clipPath id="c6"><rect x="17.9" y="363.4" width="140.0" height="126.90000000000003"/></clipPath>
<g clip-path="url(#c6)">
<polyline points="22.5,373.2 66.2,373.2 66.8,373.2 67.2,373.4 67.5,374.0 67.8,375.1 70.7,389.8 73.4,401.7 77.3,417.8 77.9,424.2 78.2,426.1 82.2,438.8 82.5,439.1 83.1,437.8 85.4,444.5 86.1,446.0 86.4,446.3 87.0,446.5 100.4,446.5 101.1,446.6 101.4,446.9 101.7,447.6 102.0,449.3 103.3,464.2 103.7,465.9 104.0,466.6 104.3,466.9 105.0,467.0 117.7,467.0 118.0,467.1 118.3,467.3 118.7,468.6 119.0,472.0 119.6,481.8 120.0,484.1 120.3,484.8 121.0,485.0 152.9,485.0" fill="none" stroke="#e04a6a" stroke-width="1.35" stroke-linejoin="round"/>
<polyline points="22.5,373.2 23.5,373.2 24.5,373.2 25.4,373.2 26.4,373.2 27.4,373.2 28.4,373.2 29.3,373.2 30.3,373.2 31.3,373.2 32.3,373.2 33.3,373.2 34.2,373.2 35.2,373.2 36.2,373.2 37.2,373.2 38.1,373.2 39.1,373.2 40.1,373.2 41.1,373.2 42.1,373.2 43.0,373.2 44.0,373.2 45.0,373.2 46.0,373.2 47.0,373.2 47.9,373.2 48.9,373.2 49.9,373.2 50.9,373.2 51.8,373.2 52.8,373.2 53.8,373.2 54.8,373.2 55.8,373.2 56.7,373.2 57.7,373.2 58.7,373.2 59.7,373.2 60.6,373.2 61.6,373.2 62.6,373.2 63.6,373.2 64.6,373.2 65.5,373.2 66.5,373.2 67.5,374.0 68.5,378.4 69.4,383.4 70.4,388.2 71.4,392.9 72.4,397.4 73.4,401.7 74.3,406.0 75.3,410.0 76.3,414.0 77.3,417.8 78.2,426.1 79.2,429.5 80.2,432.7 81.2,435.8 82.2,438.8 83.1,437.8 84.1,440.8 85.1,443.6 86.1,446.0 87.0,446.5 88.0,446.5 89.0,446.5 90.0,446.5 91.0,446.5 91.9,446.5 92.9,446.5 93.9,446.5 94.9,446.5 95.9,446.5 96.8,446.5 97.8,446.5 98.8,446.5 99.8,446.5 100.7,446.5 101.7,447.6 102.7,456.8 103.7,465.9 104.7,467.0 105.6,467.0 106.6,467.0 107.6,467.0 108.6,467.0 109.5,467.0 110.5,467.0 111.5,467.0 112.5,467.0 113.5,467.0 114.4,467.0 115.4,467.0 116.4,467.0 117.4,467.0 118.3,467.3 119.3,477.2 120.3,484.8 121.3,485.0 122.3,485.0 123.2,485.0 124.2,485.0 125.2,485.0 126.2,485.0 127.1,485.0 128.1,485.0 129.1,485.0 130.1,485.0 131.1,485.0 132.0,485.0 133.0,485.0 134.0,485.0 135.0,485.0 135.9,485.0 136.9,485.0 137.9,485.0 138.9,485.0 139.9,485.0 140.8,485.0 141.8,485.0 142.8,485.0 143.8,485.0 144.8,485.0 145.7,485.0 146.7,485.0 147.7,485.0 148.7,485.0 149.6,485.0 150.6,485.0 151.6,485.0 152.6,485.0" fill="none" stroke="none" marker-start="url(#mr)" marker-mid="url(#mr)" marker-end="url(#mr)"/>
<polyline points="22.5,373.2 66.5,373.2 67.2,373.3 67.5,373.8 67.8,375.0 72.4,397.4 74.7,407.3 76.9,416.5 79.2,424.9 81.5,432.7 84.1,440.8 86.1,446.0 86.4,446.4 86.7,446.5 100.4,446.5 101.1,446.6 101.4,446.8 101.7,447.4 102.0,449.0 103.0,461.4 103.3,464.5 103.7,466.1 104.0,466.7 104.7,467.0 117.7,467.0 118.3,467.2 118.7,468.0 119.0,471.4 119.6,482.4 120.0,484.5 120.3,484.9 152.9,485.0" fill="none" stroke="#4a44c0" stroke-width="1.25" stroke-linejoin="round"/>
<polyline points="22.5,373.2 66.5,373.2 67.2,373.4 67.5,373.9 67.8,375.1 72.4,397.4 74.7,407.3 76.9,416.5 79.2,424.9 81.8,433.8 84.4,441.7 86.1,446.0 86.4,446.4 87.0,446.5 100.4,446.5 101.1,446.6 101.4,446.8 101.7,447.5 102.0,449.1 103.3,464.4 103.7,466.0 104.0,466.7 104.3,466.9 105.0,467.0 117.7,467.0 118.3,467.2 118.7,468.3 119.0,471.7 119.6,482.1 120.0,484.3 120.3,484.9 121.0,485.0 152.9,485.0" fill="none" stroke="#1c1648" stroke-width="0.45" stroke-linejoin="round"/>
<polyline points="22.5,373.2 23.5,373.2 24.5,373.2 25.4,373.2 26.4,373.2 27.4,373.2 28.4,373.2 29.3,373.2 30.3,373.2 31.3,373.2 32.3,373.2 33.3,373.2 34.2,373.2 35.2,373.2 36.2,373.2 37.2,373.2 38.1,373.2 39.1,373.2 40.1,373.2 41.1,373.2 42.1,373.2 43.0,373.2 44.0,373.2 45.0,373.2 46.0,373.2 47.0,373.2 47.9,373.2 48.9,373.2 49.9,373.2 50.9,373.2 51.8,373.2 52.8,373.2 53.8,373.2 54.8,373.2 55.8,373.2 56.7,373.2 57.7,373.2 58.7,373.2 59.7,373.2 60.6,373.2 61.6,373.2 62.6,373.2 63.6,373.2 64.6,373.2 65.5,373.2 66.5,373.2 67.5,373.9 68.5,378.4 69.4,383.4 70.4,388.2 71.4,392.9 72.4,397.4 73.4,401.7 74.3,406.0 75.3,410.0 76.3,414.0 77.3,417.8 78.2,421.4 79.2,424.9 80.2,428.3 81.2,431.6 82.2,434.8 83.1,437.8 84.1,440.8 85.1,443.6 86.1,446.0 87.0,446.5 88.0,446.5 89.0,446.5 90.0,446.5 91.0,446.5 91.9,446.5 92.9,446.5 93.9,446.5 94.9,446.5 95.9,446.5 96.8,446.5 97.8,446.5 98.8,446.5 99.8,446.5 100.7,446.5 101.7,447.5 102.7,456.8 103.7,466.0 104.7,467.0 105.6,467.0 106.6,467.0 107.6,467.0 108.6,467.0 109.5,467.0 110.5,467.0 111.5,467.0 112.5,467.0 113.5,467.0 114.4,467.0 115.4,467.0 116.4,467.0 117.4,467.0 118.3,467.2 119.3,477.3 120.3,484.9 121.3,485.0 122.3,485.0 123.2,485.0 124.2,485.0 125.2,485.0 126.2,485.0 127.1,485.0 128.1,485.0 129.1,485.0 130.1,485.0 131.1,485.0 132.0,485.0 133.0,485.0 134.0,485.0 135.0,485.0 135.9,485.0 136.9,485.0 137.9,485.0 138.9,485.0 139.9,485.0 140.8,485.0 141.8,485.0 142.8,485.0 143.8,485.0 144.8,485.0 145.7,485.0 146.7,485.0 147.7,485.0 148.7,485.0 149.6,485.0 150.6,485.0 151.6,485.0 152.6,485.0" fill="none" stroke="none" marker-start="url(#mk)" marker-mid="url(#mk)" marker-end="url(#mk)"/>
</g>
<rect x="17.9" y="363.4" width="140.0" height="126.90000000000003" fill="none" stroke="#444" stroke-width="1.05"/>
<text x="22.50" y="495.90" font-size="4.9" text-anchor="middle" class="s">0</text>
<text x="48.58" y="495.90" font-size="4.9" text-anchor="middle" class="s">0.2</text>
<text x="74.66" y="495.90" font-size="4.9" text-anchor="middle" class="s">0.4</text>
<text x="100.74" y="495.90" font-size="4.9" text-anchor="middle" class="s">0.6</text>
<text x="126.82" y="495.90" font-size="4.9" text-anchor="middle" class="s">0.8</text>
<text x="152.90" y="495.90" font-size="4.9" text-anchor="middle" class="s">1</text>
<text x="15.80" y="477.15" font-size="4.9" text-anchor="end" class="s">0.2</text>
<text x="15.80" y="451.60" font-size="4.9" text-anchor="end" class="s">0.4</text>
<text x="15.80" y="426.05" font-size="4.9" text-anchor="end" class="s">0.6</text>
<text x="15.80" y="400.50" font-size="4.9" text-anchor="end" class="s">0.8</text>
<text x="15.80" y="374.95" font-size="4.9" text-anchor="end" class="s">1</text>
<path d="M22.50 490.3v-1.6M22.50 363.4v1.6M48.58 490.3v-1.6M48.58 363.4v1.6M74.66 490.3v-1.6M74.66 363.4v1.6M100.74 490.3v-1.6M100.74 363.4v1.6M126.82 490.3v-1.6M126.82 363.4v1.6M152.90 490.3v-1.6M152.90 363.4v1.6M17.9 475.40h1.6M157.9 475.40h-1.6M17.9 449.85h1.6M157.9 449.85h-1.6M17.9 424.30h1.6M157.9 424.30h-1.6M17.9 398.75h1.6M157.9 398.75h-1.6M17.9 373.20h1.6M157.9 373.20h-1.6" stroke="#222" stroke-width="1"/>
<text x="7.5" y="427" font-size="9.2" font-style="italic" text-anchor="middle" fill="#333" transform="rotate(-90 7.5 427)">ρ</text>
<text x="87.70" y="504.10" font-size="9.6" font-style="italic" text-anchor="middle" fill="#3a3a3a">x</text>
<line x1="81.8" y1="378" x2="105.5" y2="378" stroke="#d82424" stroke-width="1.05"/>
<circle cx="93.65" cy="378" r="0.9" fill="#e04a6a"/>
<text x="108.9" y="379.8" font-size="5.3" font-style="italic" font-weight="bold" fill="#000" stroke="#000" stroke-width="0.1" textLength="42.8" lengthAdjust="spacingAndGlyphs">FFMI-GNN rollout</text>
<line x1="81.8" y1="384.6" x2="105.5" y2="384.6" stroke="#202020" stroke-width="1.05"/>
<circle cx="93.65" cy="384.6" r="0.9" fill="#1c1648"/>
<text x="108.9" y="386.40000000000003" font-size="5.3" font-style="italic" font-weight="bold" fill="#000" stroke="#000" stroke-width="0.1" textLength="40.7" lengthAdjust="spacingAndGlyphs">FFMI-GNN 1-step</text>
<line x1="81.8" y1="391" x2="105.5" y2="391" stroke="#6a6ae8" stroke-width="1.2"/>
<text x="108.9" y="392.8" font-size="5.3" font-style="italic" font-weight="bold" fill="#000" stroke="#000" stroke-width="0.1" textLength="28.9" lengthAdjust="spacingAndGlyphs">Ground truth</text>
<rect x="27.3" y="455.2" width="52.5" height="28.5" fill="#fff" stroke="#ababab" stroke-width="0.75"/>
<polyline points="34.1,458.4 48.6,458.4 50.6,460.5 51.4,464 53.4,478.4 55,479.4 73.4,479.4" fill="none" stroke="#d46a7a" stroke-width="0.9" stroke-linejoin="round"/>
<polyline points="34.1,458.6 49.1,458.6 51.6,460.8 52.6,463.5 54.6,478.3 56,479.4 73.4,479.4" fill="none" stroke="#4a2a48" stroke-width="1.0" stroke-linejoin="round"/>
<rect x="92.7" y="440.6" width="20.39999999999999" height="29.799999999999955" fill="none" stroke="#d23cd2" stroke-width="0.9"/>
<line x1="93" y1="457" x2="82.76" y2="462.98" stroke="#d23cd2" stroke-width="0.9"/>
<polygon points="80,464.6 82.06,461.78 83.47,464.19" fill="#d23cd2"/>
<clipPath id="c7"><rect x="197.6" y="363.6" width="140.6" height="126.5"/></clipPath>
<g clip-path="url(#c7)">
<polyline points="205.4,485.0 248.5,485.0 249.1,485.0 249.4,484.8 249.8,484.1 250.4,480.9 260.1,419.9 260.7,407.7 261.0,404.0 265.8,373.5 266.2,372.4 266.8,376.3 267.1,375.1 267.8,371.2 268.1,369.8 268.4,369.0 268.7,368.7 270.0,368.6 299.0,368.6 299.3,368.6 299.6,368.8 299.9,370.6 300.2,378.7 301.2,464.1 301.5,479.5 301.9,484.1 302.2,484.9 302.8,485.0 334.0,485.0" fill="none" stroke="#e04a6a" stroke-width="1.35" stroke-linejoin="round"/>
<polyline points="205.4,485.0 206.4,485.0 207.3,485.0 208.3,485.0 209.3,485.0 210.2,485.0 211.2,485.0 212.2,485.0 213.1,485.0 214.1,485.0 215.0,485.0 216.0,485.0 217.0,485.0 217.9,485.0 218.9,485.0 219.9,485.0 220.8,485.0 221.8,485.0 222.8,485.0 223.7,485.0 224.7,485.0 225.7,485.0 226.6,485.0 227.6,485.0 228.5,485.0 229.5,485.0 230.5,485.0 231.4,485.0 232.4,485.0 233.4,485.0 234.3,485.0 235.3,485.0 236.3,485.0 237.2,485.0 238.2,485.0 239.2,485.0 240.1,485.0 241.1,485.0 242.1,485.0 243.0,485.0 244.0,485.0 244.9,485.0 245.9,485.0 246.9,485.0 247.8,485.0 248.8,485.0 249.8,484.1 250.7,478.9 251.7,472.8 252.7,466.7 253.6,460.6 254.6,454.5 255.6,448.4 256.5,442.3 257.5,436.2 258.4,430.1 259.4,424.0 260.4,413.8 261.3,402.0 262.3,395.9 263.3,389.8 264.2,383.7 265.2,377.6 266.2,372.4 267.1,375.1 268.1,369.8 269.1,368.6 270.0,368.6 271.0,368.6 272.0,368.6 272.9,368.6 273.9,368.6 274.8,368.6 275.8,368.6 276.8,368.6 277.7,368.6 278.7,368.6 279.7,368.6 280.6,368.6 281.6,368.6 282.6,368.6 283.5,368.6 284.5,368.6 285.5,368.6 286.4,368.6 287.4,368.6 288.3,368.6 289.3,368.6 290.3,368.6 291.2,368.6 292.2,368.6 293.2,368.6 294.1,368.6 295.1,368.6 296.1,368.6 297.0,368.6 298.0,368.6 299.0,368.6 299.9,370.6 300.9,434.3 301.9,484.1 302.8,485.0 303.8,485.0 304.7,485.0 305.7,485.0 306.7,485.0 307.6,485.0 308.6,485.0 309.6,485.0 310.5,485.0 311.5,485.0 312.5,485.0 313.4,485.0 314.4,485.0 315.4,485.0 316.3,485.0 317.3,485.0 318.2,485.0 319.2,485.0 320.2,485.0 321.1,485.0 322.1,485.0 323.1,485.0 324.0,485.0 325.0,485.0 326.0,485.0 326.9,485.0 327.9,485.0 328.9,485.0 329.8,485.0 330.8,485.0 331.7,485.0 332.7,485.0 333.7,485.0" fill="none" stroke="none" marker-start="url(#mr)" marker-mid="url(#mr)" marker-end="url(#mr)"/>
<polyline points="205.4,485.0 248.8,485.0 249.4,484.9 249.8,484.3 250.4,480.9 267.8,371.2 268.1,369.6 268.4,368.9 268.7,368.6 269.7,368.6 299.3,368.6 299.6,368.7 299.9,369.4 300.2,375.2 300.6,397.0 301.2,468.2 301.5,481.8 301.9,484.7 302.2,485.0 302.5,485.0 334.0,485.0" fill="none" stroke="#4a44c0" stroke-width="1.25" stroke-linejoin="round"/>
<polyline points="205.4,485.0 248.8,485.0 249.4,484.8 249.8,484.2 250.4,480.9 267.8,371.2 268.1,369.7 268.4,368.9 268.7,368.7 269.7,368.6 299.0,368.6 299.6,368.7 299.9,369.9 300.2,376.9 300.6,398.9 301.2,466.1 301.5,480.7 301.9,484.4 302.2,485.0 302.5,485.0 334.0,485.0" fill="none" stroke="#1c1648" stroke-width="0.45" stroke-linejoin="round"/>
<polyline points="205.4,485.0 206.4,485.0 207.3,485.0 208.3,485.0 209.3,485.0 210.2,485.0 211.2,485.0 212.2,485.0 213.1,485.0 214.1,485.0 215.0,485.0 216.0,485.0 217.0,485.0 217.9,485.0 218.9,485.0 219.9,485.0 220.8,485.0 221.8,485.0 222.8,485.0 223.7,485.0 224.7,485.0 225.7,485.0 226.6,485.0 227.6,485.0 228.5,485.0 229.5,485.0 230.5,485.0 231.4,485.0 232.4,485.0 233.4,485.0 234.3,485.0 235.3,485.0 236.3,485.0 237.2,485.0 238.2,485.0 239.2,485.0 240.1,485.0 241.1,485.0 242.1,485.0 243.0,485.0 244.0,485.0 244.9,485.0 245.9,485.0 246.9,485.0 247.8,485.0 248.8,485.0 249.8,484.2 250.7,478.9 251.7,472.8 252.7,466.7 253.6,460.6 254.6,454.5 255.6,448.4 256.5,442.3 257.5,436.2 258.4,430.1 259.4,424.0 260.4,417.8 261.3,411.7 262.3,405.6 263.3,399.5 264.2,393.4 265.2,387.3 266.2,381.2 267.1,375.1 268.1,369.7 269.1,368.6 270.0,368.6 271.0,368.6 272.0,368.6 272.9,368.6 273.9,368.6 274.8,368.6 275.8,368.6 276.8,368.6 277.7,368.6 278.7,368.6 279.7,368.6 280.6,368.6 281.6,368.6 282.6,368.6 283.5,368.6 284.5,368.6 285.5,368.6 286.4,368.6 287.4,368.6 288.3,368.6 289.3,368.6 290.3,368.6 291.2,368.6 292.2,368.6 293.2,368.6 294.1,368.6 295.1,368.6 296.1,368.6 297.0,368.6 298.0,368.6 299.0,368.6 299.9,369.9 300.9,434.9 301.9,484.4 302.8,485.0 303.8,485.0 304.7,485.0 305.7,485.0 306.7,485.0 307.6,485.0 308.6,485.0 309.6,485.0 310.5,485.0 311.5,485.0 312.5,485.0 313.4,485.0 314.4,485.0 315.4,485.0 316.3,485.0 317.3,485.0 318.2,485.0 319.2,485.0 320.2,485.0 321.1,485.0 322.1,485.0 323.1,485.0 324.0,485.0 325.0,485.0 326.0,485.0 326.9,485.0 327.9,485.0 328.9,485.0 329.8,485.0 330.8,485.0 331.7,485.0 332.7,485.0 333.7,485.0" fill="none" stroke="none" marker-start="url(#mk)" marker-mid="url(#mk)" marker-end="url(#mk)"/>
</g>
<rect x="197.6" y="363.6" width="140.6" height="126.5" fill="none" stroke="#444" stroke-width="1.05"/>
<text x="205.40" y="495.70" font-size="4.9" text-anchor="middle" class="s">0</text>
<text x="231.12" y="495.70" font-size="4.9" text-anchor="middle" class="s">0.2</text>
<text x="256.84" y="495.70" font-size="4.9" text-anchor="middle" class="s">0.4</text>
<text x="282.56" y="495.70" font-size="4.9" text-anchor="middle" class="s">0.6</text>
<text x="308.28" y="495.70" font-size="4.9" text-anchor="middle" class="s">0.8</text>
<text x="334.00" y="495.70" font-size="4.9" text-anchor="middle" class="s">1</text>
<text x="196.20" y="486.75" font-size="4.9" text-anchor="end" class="s">0</text>
<text x="196.20" y="461.65" font-size="4.9" text-anchor="end" class="s">0.2</text>
<text x="196.20" y="436.55" font-size="4.9" text-anchor="end" class="s">0.4</text>
<text x="196.20" y="411.45" font-size="4.9" text-anchor="end" class="s">0.6</text>
<text x="196.20" y="386.35" font-size="4.9" text-anchor="end" class="s">0.8</text>
<path d="M205.40 490.1v-1.6M205.40 363.6v1.6M231.12 490.1v-1.6M231.12 363.6v1.6M256.84 490.1v-1.6M256.84 363.6v1.6M282.56 490.1v-1.6M282.56 363.6v1.6M308.28 490.1v-1.6M308.28 363.6v1.6M334.00 490.1v-1.6M334.00 363.6v1.6M197.6 485.00h1.6M338.2 485.00h-1.6M197.6 459.90h1.6M338.2 459.90h-1.6M197.6 434.80h1.6M338.2 434.80h-1.6M197.6 409.70h1.6M338.2 409.70h-1.6M197.6 384.60h1.6M338.2 384.60h-1.6" stroke="#222" stroke-width="1"/>
<text x="186.8" y="427" font-size="9.2" font-style="italic" text-anchor="middle" fill="#333" transform="rotate(-90 186.8 427)">u</text>
<text x="267.70" y="503.90" font-size="9.6" font-style="italic" text-anchor="middle" fill="#3a3a3a">x</text>
<line x1="199.8" y1="369.8" x2="221" y2="369.8" stroke="#d82424" stroke-width="1.05"/>
<circle cx="210.40" cy="369.8" r="0.9" fill="#e04a6a"/>
<text x="224.8" y="371.6" font-size="5.3" font-style="italic" font-weight="normal" fill="#000" stroke="#000" stroke-width="0.14" textLength="39.4" lengthAdjust="spacingAndGlyphs">FFMI-GNN rollout</text>
<line x1="199.8" y1="376.5" x2="221" y2="376.5" stroke="#202020" stroke-width="1.05"/>
<circle cx="210.40" cy="376.5" r="0.9" fill="#1c1648"/>
<text x="224.8" y="378.3" font-size="5.3" font-style="italic" font-weight="normal" fill="#000" stroke="#000" stroke-width="0.14" textLength="37.6" lengthAdjust="spacingAndGlyphs">FFMI-GNN 1-step</text>
<line x1="199.8" y1="382.7" x2="221" y2="382.7" stroke="#6a6ae8" stroke-width="1.2"/>
<text x="224.8" y="384.5" font-size="5.3" font-style="italic" font-weight="normal" fill="#000" stroke="#000" stroke-width="0.14" textLength="26" lengthAdjust="spacingAndGlyphs">Ground truth</text>
<rect x="202.3" y="406.4" width="53.5" height="29.900000000000034" fill="#fff" stroke="#ababab" stroke-width="0.75"/>
<polyline points="214,432.7 217.6,416.6 219.6,414.7 249.2,414.7" fill="none" stroke="#d46a7a" stroke-width="0.9" stroke-linejoin="round"/>
<polyline points="214.7,432.7 218.5,417 220.5,415.3 249.2,415.2" fill="none" stroke="#3a2040" stroke-width="1.0" stroke-linejoin="round"/>
<line x1="267" y1="372.7" x2="249.51" y2="402.64" stroke="#d23cd2" stroke-width="0.9"/>
<polygon points="247.9,405.4 248.31,401.93 250.72,403.34" fill="#d23cd2"/>
<clipPath id="c8"><rect x="376.7" y="363.6" width="139.8" height="126.69999999999999"/></clipPath>
<g clip-path="url(#c8)">
<polyline points="387.3,376.0 428.4,376.0 429.0,376.0 429.3,376.3 429.6,377.0 429.9,378.5 432.1,393.3 434.2,406.6 437.6,424.6 440.1,441.9 442.5,441.9 445.0,453.4 446.5,457.9 447.1,459.3 447.4,459.6 448.0,459.8 477.2,459.8 477.5,460.2 477.8,461.9 478.7,479.8 479.0,483.1 479.3,484.0 479.6,484.2 510.0,484.2" fill="none" stroke="#e04a6a" stroke-width="1.35" stroke-linejoin="round"/>
<polyline points="387.3,376.0 388.2,376.0 389.1,376.0 390.1,376.0 391.0,376.0 391.9,376.0 392.8,376.0 393.7,376.0 394.7,376.0 395.6,376.0 396.5,376.0 397.4,376.0 398.3,376.0 399.3,376.0 400.2,376.0 401.1,376.0 402.0,376.0 402.9,376.0 403.9,376.0 404.8,376.0 405.7,376.0 406.6,376.0 407.5,376.0 408.5,376.0 409.4,376.0 410.3,376.0 411.2,376.0 412.1,376.0 413.1,376.0 414.0,376.0 414.9,376.0 415.8,376.0 416.7,376.0 417.7,376.0 418.6,376.0 419.5,376.0 420.4,376.0 421.3,376.0 422.3,376.0 423.2,376.0 424.1,376.0 425.0,376.0 426.0,376.0 426.9,376.0 427.8,376.0 428.7,376.0 429.6,377.0 430.6,382.7 431.5,389.2 432.4,395.3 433.3,401.1 434.2,406.6 435.2,411.8 436.1,416.8 437.0,421.5 437.9,426.7 438.8,433.2 439.8,439.7 440.7,441.9 441.6,441.9 442.5,441.9 443.4,446.2 444.4,450.5 445.3,454.3 446.2,457.0 447.1,459.3 448.0,459.8 449.0,459.8 449.9,459.8 450.8,459.8 451.7,459.8 452.6,459.8 453.6,459.8 454.5,459.8 455.4,459.8 456.3,459.8 457.2,459.8 458.2,459.8 459.1,459.8 460.0,459.8 460.9,459.8 461.8,459.8 462.8,459.8 463.7,459.8 464.6,459.8 465.5,459.8 466.4,459.8 467.4,459.8 468.3,459.8 469.2,459.8 470.1,459.8 471.0,459.8 472.0,459.8 472.9,459.8 473.8,459.8 474.7,459.8 475.6,459.8 476.6,459.8 477.5,460.2 478.4,473.6 479.3,484.0 480.2,484.2 481.2,484.2 482.1,484.2 483.0,484.2 483.9,484.2 484.8,484.2 485.8,484.2 486.7,484.2 487.6,484.2 488.5,484.2 489.4,484.2 490.4,484.2 491.3,484.2 492.2,484.2 493.1,484.2 494.0,484.2 495.0,484.2 495.9,484.2 496.8,484.2 497.7,484.2 498.7,484.2 499.6,484.2 500.5,484.2 501.4,484.2 502.3,484.2 503.3,484.2 504.2,484.2 505.1,484.2 506.0,484.2 506.9,484.2 507.9,484.2 508.8,484.2 509.7,484.2" fill="none" stroke="none" marker-start="url(#mr)" marker-mid="url(#mr)" marker-end="url(#mr)"/>
<polyline points="387.3,376.0 428.7,376.0 429.3,376.1 429.6,376.8 429.9,378.4 432.4,395.3 434.5,408.4 436.4,418.4 438.2,427.5 440.4,436.9 442.5,445.2 445.0,453.4 446.5,457.9 447.1,459.4 447.4,459.7 448.0,459.8 476.9,459.8 477.5,460.0 477.8,461.2 478.1,465.8 478.7,480.7 479.0,483.6 479.3,484.2 510.0,484.2" fill="none" stroke="#4a44c0" stroke-width="1.25" stroke-linejoin="round"/>
<polyline points="387.3,376.0 428.7,376.0 429.3,376.2 429.6,376.9 429.9,378.5 432.4,395.3 434.5,408.4 436.4,418.4 438.2,427.5 440.4,436.9 442.5,445.2 445.0,453.4 446.5,457.9 447.1,459.3 447.4,459.7 448.0,459.8 477.2,459.8 477.5,460.1 477.8,461.5 478.1,466.2 478.7,480.3 479.0,483.3 479.3,484.1 479.9,484.2 510.0,484.2" fill="none" stroke="#1c1648" stroke-width="0.45" stroke-linejoin="round"/>
<polyline points="387.3,376.0 388.2,376.0 389.1,376.0 390.1,376.0 391.0,376.0 391.9,376.0 392.8,376.0 393.7,376.0 394.7,376.0 395.6,376.0 396.5,376.0 397.4,376.0 398.3,376.0 399.3,376.0 400.2,376.0 401.1,376.0 402.0,376.0 402.9,376.0 403.9,376.0 404.8,376.0 405.7,376.0 406.6,376.0 407.5,376.0 408.5,376.0 409.4,376.0 410.3,376.0 411.2,376.0 412.1,376.0 413.1,376.0 414.0,376.0 414.9,376.0 415.8,376.0 416.7,376.0 417.7,376.0 418.6,376.0 419.5,376.0 420.4,376.0 421.3,376.0 422.3,376.0 423.2,376.0 424.1,376.0 425.0,376.0 426.0,376.0 426.9,376.0 427.8,376.0 428.7,376.0 429.6,376.9 430.6,382.7 431.5,389.2 432.4,395.3 433.3,401.1 434.2,406.6 435.2,411.8 436.1,416.8 437.0,421.5 437.9,426.0 438.8,430.3 439.8,434.3 440.7,438.1 441.6,441.7 442.5,445.2 443.4,448.4 444.4,451.4 445.3,454.3 446.2,457.0 447.1,459.3 448.0,459.8 449.0,459.8 449.9,459.8 450.8,459.8 451.7,459.8 452.6,459.8 453.6,459.8 454.5,459.8 455.4,459.8 456.3,459.8 457.2,459.8 458.2,459.8 459.1,459.8 460.0,459.8 460.9,459.8 461.8,459.8 462.8,459.8 463.7,459.8 464.6,459.8 465.5,459.8 466.4,459.8 467.4,459.8 468.3,459.8 469.2,459.8 470.1,459.8 471.0,459.8 472.0,459.8 472.9,459.8 473.8,459.8 474.7,459.8 475.6,459.8 476.6,459.8 477.5,460.1 478.4,473.7 479.3,484.1 480.2,484.2 481.2,484.2 482.1,484.2 483.0,484.2 483.9,484.2 484.8,484.2 485.8,484.2 486.7,484.2 487.6,484.2 488.5,484.2 489.4,484.2 490.4,484.2 491.3,484.2 492.2,484.2 493.1,484.2 494.0,484.2 495.0,484.2 495.9,484.2 496.8,484.2 497.7,484.2 498.7,484.2 499.6,484.2 500.5,484.2 501.4,484.2 502.3,484.2 503.3,484.2 504.2,484.2 505.1,484.2 506.0,484.2 506.9,484.2 507.9,484.2 508.8,484.2 509.7,484.2" fill="none" stroke="none" marker-start="url(#mk)" marker-mid="url(#mk)" marker-end="url(#mk)"/>
</g>
<rect x="376.7" y="363.6" width="139.8" height="126.69999999999999" fill="none" stroke="#444" stroke-width="1.05"/>
<text x="387.30" y="495.90" font-size="4.9" text-anchor="middle" class="s">0</text>
<text x="411.84" y="495.90" font-size="4.9" text-anchor="middle" class="s">0.2</text>
<text x="436.38" y="495.90" font-size="4.9" text-anchor="middle" class="s">0.4</text>
<text x="460.92" y="495.90" font-size="4.9" text-anchor="middle" class="s">0.6</text>
<text x="485.46" y="495.90" font-size="4.9" text-anchor="middle" class="s">0.8</text>
<text x="510.00" y="495.90" font-size="4.9" text-anchor="middle" class="s">1</text>
<text x="374.60" y="473.95" font-size="4.9" text-anchor="end" class="s">0.2</text>
<text x="374.60" y="449.90" font-size="4.9" text-anchor="end" class="s">0.4</text>
<text x="374.60" y="425.85" font-size="4.9" text-anchor="end" class="s">0.6</text>
<text x="374.60" y="401.80" font-size="4.9" text-anchor="end" class="s">0.8</text>
<text x="374.60" y="377.75" font-size="4.9" text-anchor="end" class="s">1</text>
<path d="M387.30 490.3v-1.6M387.30 363.6v1.6M411.84 490.3v-1.6M411.84 363.6v1.6M436.38 490.3v-1.6M436.38 363.6v1.6M460.92 490.3v-1.6M460.92 363.6v1.6M485.46 490.3v-1.6M485.46 363.6v1.6M510.00 490.3v-1.6M510.00 363.6v1.6M376.7 472.20h1.6M516.5 472.20h-1.6M376.7 448.15h1.6M516.5 448.15h-1.6M376.7 424.10h1.6M516.5 424.10h-1.6M376.7 400.05h1.6M516.5 400.05h-1.6M376.7 376.00h1.6M516.5 376.00h-1.6" stroke="#222" stroke-width="1"/>
<text x="366.7" y="427" font-size="9.2" font-style="italic" text-anchor="middle" fill="#333" transform="rotate(-90 366.7 427)">p</text>
<text x="446.50" y="504.10" font-size="9.6" font-style="italic" text-anchor="middle" fill="#3a3a3a">x</text>
<line x1="440.4" y1="380.9" x2="463.7" y2="380.9" stroke="#d82424" stroke-width="1.05"/>
<circle cx="452.05" cy="380.9" r="0.9" fill="#e04a6a"/>
<text x="468.1" y="382.7" font-size="5.3" font-style="italic" font-weight="normal" fill="#000" stroke="#000" stroke-width="0.14" textLength="42.4" lengthAdjust="spacingAndGlyphs">FFMI-GNN rollout</text>
<line x1="440.4" y1="387.2" x2="463.7" y2="387.2" stroke="#202020" stroke-width="1.05"/>
<circle cx="452.05" cy="387.2" r="0.9" fill="#1c1648"/>
<text x="468.1" y="389.0" font-size="5.3" font-style="italic" font-weight="normal" fill="#000" stroke="#000" stroke-width="0.14" textLength="40.5" lengthAdjust="spacingAndGlyphs">FFMI-GNN 1-step</text>
<line x1="440.4" y1="393.2" x2="463.7" y2="393.2" stroke="#6a6ae8" stroke-width="1.2"/>
<text x="468.1" y="395.0" font-size="5.3" font-style="italic" font-weight="normal" fill="#000" stroke="#000" stroke-width="0.14" textLength="28" lengthAdjust="spacingAndGlyphs">Ground truth</text>
<rect x="388.4" y="457.8" width="43.80000000000001" height="25.099999999999966" fill="#fff" stroke="#ababab" stroke-width="0.75"/>
<polyline points="394.8,462.4 397.5,470.5 400,475.5 402.7,477.6 405,477.6" fill="none" stroke="#d46a7a" stroke-width="0.8" stroke-linejoin="round"/>
<polyline points="398.1,461.5 402.5,469.5 406.5,475 410.1,477.2 414,477.4" fill="none" stroke="#8888a8" stroke-width="0.8" stroke-linejoin="round"/>
<polyline points="397.2,461.5 400.3,470 403,475.3 405.5,477.6 414.7,477.6" fill="none" stroke="#3a2a40" stroke-width="0.9" stroke-linejoin="round"/>
<polyline points="414.7,477.6 426.7,477.6" fill="none" stroke="#6a6ad0" stroke-width="1.0" stroke-dasharray="1.2 0.6" stroke-linejoin="round"/>
<rect x="440.4" y="454.2" width="11.100000000000023" height="8.900000000000034" fill="none" stroke="#d23cd2" stroke-width="0.9"/>
<line x1="440.4" y1="459.2" x2="434.27" y2="464.75" stroke="#d23cd2" stroke-width="0.9"/>
<polygon points="431.9,466.9 433.33,463.71 435.21,465.79" fill="#d23cd2"/>
<clipPath id="c9"><rect x="19.1" y="545.1" width="140.4" height="127.19999999999993"/></clipPath>
<g clip-path="url(#c9)">
<polyline points="24.2,555.5 63.6,555.5 64.6,555.6 64.9,555.9 65.2,556.6 65.5,557.7 70.4,578.3 75.0,595.1 78.6,612.1 78.9,612.7 82.1,612.7 82.5,613.1 86.0,627.0 86.7,628.2 87.0,628.5 87.7,628.6 103.6,628.6 104.3,628.7 104.6,628.9 104.9,629.5 105.2,630.9 106.6,645.7 106.9,647.7 107.2,648.6 107.5,648.9 108.2,649.0 124.8,649.0 125.4,649.1 125.8,649.7 126.1,651.6 127.1,665.0 127.4,666.5 127.7,666.9 154.4,667.0" fill="none" stroke="#e04a6a" stroke-width="1.35" stroke-linejoin="round"/>
<polyline points="24.2,555.5 25.2,555.5 26.2,555.5 27.1,555.5 28.1,555.5 29.1,555.5 30.1,555.5 31.0,555.5 32.0,555.5 33.0,555.5 34.0,555.5 34.9,555.5 35.9,555.5 36.9,555.5 37.9,555.5 38.8,555.5 39.8,555.5 40.8,555.5 41.8,555.5 42.8,555.5 43.7,555.5 44.7,555.5 45.7,555.5 46.7,555.5 47.6,555.5 48.6,555.5 49.6,555.5 50.6,555.5 51.5,555.5 52.5,555.5 53.5,555.5 54.5,555.5 55.4,555.5 56.4,555.5 57.4,555.5 58.4,555.5 59.4,555.5 60.3,555.5 61.3,555.5 62.3,555.5 63.3,555.5 64.2,555.5 65.2,556.6 66.2,560.5 67.2,564.8 68.1,569.0 69.1,573.1 70.1,577.0 71.1,580.9 72.0,584.6 73.0,588.2 74.0,591.7 75.0,595.1 76.0,599.7 76.9,604.4 77.9,609.0 78.9,612.7 79.9,612.7 80.8,612.7 81.8,612.7 82.8,614.3 83.8,618.1 84.7,621.9 85.7,625.7 86.7,628.2 87.7,628.6 88.6,628.6 89.6,628.6 90.6,628.6 91.6,628.6 92.6,628.6 93.5,628.6 94.5,628.6 95.5,628.6 96.5,628.6 97.4,628.6 98.4,628.6 99.4,628.6 100.4,628.6 101.3,628.6 102.3,628.6 103.3,628.6 104.3,628.7 105.2,630.9 106.2,642.3 107.2,648.6 108.2,649.0 109.2,649.0 110.1,649.0 111.1,649.0 112.1,649.0 113.1,649.0 114.0,649.0 115.0,649.0 116.0,649.0 117.0,649.0 117.9,649.0 118.9,649.0 119.9,649.0 120.9,649.0 121.9,649.0 122.8,649.0 123.8,649.0 124.8,649.0 125.8,649.7 126.7,661.1 127.7,666.9 128.7,667.0 129.7,667.0 130.6,667.0 131.6,667.0 132.6,667.0 133.6,667.0 134.5,667.0 135.5,667.0 136.5,667.0 137.5,667.0 138.5,667.0 139.4,667.0 140.4,667.0 141.4,667.0 142.4,667.0 143.3,667.0 144.3,667.0 145.3,667.0 146.3,667.0 147.2,667.0 148.2,667.0 149.2,667.0 150.2,667.0 151.1,667.0 152.1,667.0 153.1,667.0 154.1,667.0" fill="none" stroke="none" marker-start="url(#mr)" marker-mid="url(#mr)" marker-end="url(#mr)"/>
<polyline points="24.2,555.5 63.9,555.5 64.6,555.5 64.9,555.8 65.2,556.5 65.5,557.6 68.5,570.4 71.1,580.9 73.4,589.4 76.0,598.4 78.6,606.7 81.5,615.3 84.7,623.9 86.0,627.0 86.7,628.3 87.0,628.5 87.3,628.6 103.6,628.6 104.3,628.6 104.6,628.8 104.9,629.3 105.2,630.6 105.6,633.4 106.6,646.1 106.9,647.9 107.2,648.7 107.5,648.9 108.2,649.0 125.1,649.0 125.4,649.1 125.8,649.4 126.1,651.0 127.1,665.6 127.4,666.8 127.7,666.9 128.0,667.0 154.4,667.0" fill="none" stroke="#4a44c0" stroke-width="1.25" stroke-linejoin="round"/>
<polyline points="24.2,555.5 63.9,555.5 64.6,555.6 64.9,555.8 65.5,557.7 68.5,570.4 71.4,582.1 76.0,598.4 78.6,606.7 81.5,615.3 84.7,623.9 86.0,627.0 86.7,628.3 87.0,628.5 87.3,628.6 103.6,628.6 104.3,628.6 104.6,628.8 104.9,629.4 105.2,630.8 105.6,633.6 106.6,645.9 106.9,647.8 107.2,648.6 107.5,648.9 108.2,649.0 125.4,649.1 125.8,649.5 126.1,651.3 127.1,665.3 127.4,666.6 127.7,666.9 154.4,667.0" fill="none" stroke="#1c1648" stroke-width="0.45" stroke-linejoin="round"/>
<polyline points="24.2,555.5 25.2,555.5 26.2,555.5 27.1,555.5 28.1,555.5 29.1,555.5 30.1,555.5 31.0,555.5 32.0,555.5 33.0,555.5 34.0,555.5 34.9,555.5 35.9,555.5 36.9,555.5 37.9,555.5 38.8,555.5 39.8,555.5 40.8,555.5 41.8,555.5 42.8,555.5 43.7,555.5 44.7,555.5 45.7,555.5 46.7,555.5 47.6,555.5 48.6,555.5 49.6,555.5 50.6,555.5 51.5,555.5 52.5,555.5 53.5,555.5 54.5,555.5 55.4,555.5 56.4,555.5 57.4,555.5 58.4,555.5 59.4,555.5 60.3,555.5 61.3,555.5 62.3,555.5 63.3,555.5 64.2,555.5 65.2,556.5 66.2,560.5 67.2,564.8 68.1,569.0 69.1,573.1 70.1,577.0 71.1,580.9 72.0,584.6 73.0,588.2 74.0,591.7 75.0,595.1 76.0,598.4 76.9,601.6 77.9,604.7 78.9,607.7 79.9,610.6 80.8,613.4 81.8,616.2 82.8,618.8 83.8,621.4 84.7,623.9 85.7,626.2 86.7,628.3 87.7,628.6 88.6,628.6 89.6,628.6 90.6,628.6 91.6,628.6 92.6,628.6 93.5,628.6 94.5,628.6 95.5,628.6 96.5,628.6 97.4,628.6 98.4,628.6 99.4,628.6 100.4,628.6 101.3,628.6 102.3,628.6 103.3,628.6 104.3,628.6 105.2,630.8 106.2,642.4 107.2,648.6 108.2,649.0 109.2,649.0 110.1,649.0 111.1,649.0 112.1,649.0 113.1,649.0 114.0,649.0 115.0,649.0 116.0,649.0 117.0,649.0 117.9,649.0 118.9,649.0 119.9,649.0 120.9,649.0 121.9,649.0 122.8,649.0 123.8,649.0 124.8,649.0 125.8,649.5 126.7,661.4 127.7,666.9 128.7,667.0 129.7,667.0 130.6,667.0 131.6,667.0 132.6,667.0 133.6,667.0 134.5,667.0 135.5,667.0 136.5,667.0 137.5,667.0 138.5,667.0 139.4,667.0 140.4,667.0 141.4,667.0 142.4,667.0 143.3,667.0 144.3,667.0 145.3,667.0 146.3,667.0 147.2,667.0 148.2,667.0 149.2,667.0 150.2,667.0 151.1,667.0 152.1,667.0 153.1,667.0 154.1,667.0" fill="none" stroke="none" marker-start="url(#mk)" marker-mid="url(#mk)" marker-end="url(#mk)"/>
</g>
<rect x="19.1" y="545.1" width="140.4" height="127.19999999999993" fill="none" stroke="#444" stroke-width="1.05"/>
<text x="24.20" y="677.90" font-size="4.9" text-anchor="middle" class="s">0</text>
<text x="50.24" y="677.90" font-size="4.9" text-anchor="middle" class="s">0.2</text>
<text x="76.28" y="677.90" font-size="4.9" text-anchor="middle" class="s">0.4</text>
<text x="102.32" y="677.90" font-size="4.9" text-anchor="middle" class="s">0.6</text>
<text x="128.36" y="677.90" font-size="4.9" text-anchor="middle" class="s">0.8</text>
<text x="154.40" y="677.90" font-size="4.9" text-anchor="middle" class="s">1</text>
<text x="17.00" y="659.15" font-size="4.9" text-anchor="end" class="s">0.2</text>
<text x="17.00" y="633.67" font-size="4.9" text-anchor="end" class="s">0.4</text>
<text x="17.00" y="608.20" font-size="4.9" text-anchor="end" class="s">0.6</text>
<text x="17.00" y="582.73" font-size="4.9" text-anchor="end" class="s">0.8</text>
<text x="17.00" y="557.25" font-size="4.9" text-anchor="end" class="s">1</text>
<path d="M24.20 672.3v-1.6M24.20 545.1v1.6M50.24 672.3v-1.6M50.24 545.1v1.6M76.28 672.3v-1.6M76.28 545.1v1.6M102.32 672.3v-1.6M102.32 545.1v1.6M128.36 672.3v-1.6M128.36 545.1v1.6M154.40 672.3v-1.6M154.40 545.1v1.6M19.1 657.40h1.6M159.5 657.40h-1.6M19.1 631.92h1.6M159.5 631.92h-1.6M19.1 606.45h1.6M159.5 606.45h-1.6M19.1 580.98h1.6M159.5 580.98h-1.6M19.1 555.50h1.6M159.5 555.50h-1.6" stroke="#222" stroke-width="1"/>
<text x="8.8" y="610" font-size="9.2" font-style="italic" text-anchor="middle" fill="#333" transform="rotate(-90 8.8 610)">ρ</text>
<text x="89.40" y="686.10" font-size="9.6" font-style="italic" text-anchor="middle" fill="#3a3a3a">x</text>
<line x1="81.2" y1="561.1" x2="104.3" y2="561.1" stroke="#d82424" stroke-width="1.05"/>
<circle cx="92.75" cy="561.1" r="0.9" fill="#e04a6a"/>
<text x="108.4" y="562.9" font-size="5.3" font-style="italic" font-weight="bold" fill="#000" stroke="#000" stroke-width="0.1" textLength="42.9" lengthAdjust="spacingAndGlyphs">FFMI-GNN rollout</text>
<line x1="81.2" y1="567.2" x2="104.3" y2="567.2" stroke="#202020" stroke-width="1.05"/>
<circle cx="92.75" cy="567.2" r="0.9" fill="#1c1648"/>
<text x="108.4" y="569.0" font-size="5.3" font-style="italic" font-weight="bold" fill="#000" stroke="#000" stroke-width="0.1" textLength="40.8" lengthAdjust="spacingAndGlyphs">FFMI-GNN 1-step</text>
<line x1="81.2" y1="573.6" x2="104.3" y2="573.6" stroke="#6a6ae8" stroke-width="1.2"/>
<text x="108.4" y="575.4" font-size="5.3" font-style="italic" font-weight="bold" fill="#000" stroke="#000" stroke-width="0.1" textLength="28.6" lengthAdjust="spacingAndGlyphs">Ground truth</text>
<clipPath id="c10"><rect x="199.4" y="545.0" width="139.79999999999998" height="127.39999999999998"/></clipPath>
<g clip-path="url(#c10)">
<polyline points="205.6,670.5 243.8,670.5 244.4,670.4 244.8,670.1 245.1,669.3 245.7,666.4 255.7,611.6 258.5,588.5 258.9,587.7 261.4,587.7 261.7,586.8 264.5,563.7 265.1,560.3 265.7,557.7 266.1,557.1 266.4,556.9 267.3,556.9 302.4,556.9 302.7,556.9 303.0,557.5 303.3,560.7 303.6,572.9 304.6,657.9 304.9,667.8 305.2,670.1 305.5,670.5 305.8,670.5 330.9,670.5" fill="none" stroke="#e04a6a" stroke-width="1.35" stroke-linejoin="round"/>
<polyline points="205.6,670.5 206.5,670.5 207.5,670.5 208.4,670.5 209.4,670.5 210.3,670.5 211.2,670.5 212.2,670.5 213.1,670.5 214.1,670.5 215.0,670.5 215.9,670.5 216.9,670.5 217.8,670.5 218.8,670.5 219.7,670.5 220.6,670.5 221.6,670.5 222.5,670.5 223.5,670.5 224.4,670.5 225.3,670.5 226.3,670.5 227.2,670.5 228.2,670.5 229.1,670.5 230.0,670.5 231.0,670.5 231.9,670.5 232.9,670.5 233.8,670.5 234.7,670.5 235.7,670.5 236.6,670.5 237.6,670.5 238.5,670.5 239.4,670.5 240.4,670.5 241.3,670.5 242.3,670.5 243.2,670.5 244.1,670.5 245.1,669.3 246.0,664.7 246.9,659.5 247.9,654.4 248.8,649.3 249.8,644.2 250.7,639.0 251.6,633.9 252.6,628.8 253.5,623.6 254.5,618.5 255.4,613.4 256.3,606.5 257.3,598.8 258.2,591.1 259.2,587.7 260.1,587.7 261.0,587.7 262.0,584.3 262.9,576.6 263.9,568.9 264.8,562.0 265.7,557.7 266.7,556.9 267.6,556.9 268.6,556.9 269.5,556.9 270.4,556.9 271.4,556.9 272.3,556.9 273.3,556.9 274.2,556.9 275.1,556.9 276.1,556.9 277.0,556.9 278.0,556.9 278.9,556.9 279.8,556.9 280.8,556.9 281.7,556.9 282.7,556.9 283.6,556.9 284.5,556.9 285.5,556.9 286.4,556.9 287.4,556.9 288.3,556.9 289.2,556.9 290.2,556.9 291.1,556.9 292.1,556.9 293.0,556.9 293.9,556.9 294.9,556.9 295.8,556.9 296.8,556.9 297.7,556.9 298.6,556.9 299.6,556.9 300.5,556.9 301.5,556.9 302.4,556.9 303.3,560.7 304.3,633.6 305.2,670.1 306.2,670.5 307.1,670.5 308.0,670.5 309.0,670.5 309.9,670.5 310.9,670.5 311.8,670.5 312.7,670.5 313.7,670.5 314.6,670.5 315.6,670.5 316.5,670.5 317.4,670.5 318.4,670.5 319.3,670.5 320.2,670.5 321.2,670.5 322.1,670.5 323.1,670.5 324.0,670.5 324.9,670.5 325.9,670.5 326.8,670.5 327.8,670.5 328.7,670.5 329.6,670.5 330.6,670.5" fill="none" stroke="none" marker-start="url(#mr)" marker-mid="url(#mr)" marker-end="url(#mr)"/>
<polyline points="205.6,670.5 243.8,670.5 244.4,670.5 244.8,670.2 245.1,669.4 245.7,666.4 265.4,558.7 265.7,557.5 266.1,557.0 267.0,556.9 302.4,556.9 303.0,557.1 303.3,558.9 303.6,569.0 304.3,636.6 304.6,661.6 304.9,669.2 305.2,670.4 305.5,670.5 330.9,670.5" fill="none" stroke="#4a44c0" stroke-width="1.25" stroke-linejoin="round"/>
<polyline points="205.6,670.5 243.8,670.5 244.4,670.4 244.8,670.1 245.1,669.3 245.7,666.4 265.1,560.3 265.7,557.6 266.1,557.0 266.4,556.9 267.0,556.9 302.4,556.9 302.7,556.9 303.0,557.2 303.3,559.7 303.6,571.0 304.6,659.8 304.9,668.6 305.2,670.3 305.5,670.5 305.8,670.5 330.9,670.5" fill="none" stroke="#1c1648" stroke-width="0.45" stroke-linejoin="round"/>
<polyline points="205.6,670.5 206.5,670.5 207.5,670.5 208.4,670.5 209.4,670.5 210.3,670.5 211.2,670.5 212.2,670.5 213.1,670.5 214.1,670.5 215.0,670.5 215.9,670.5 216.9,670.5 217.8,670.5 218.8,670.5 219.7,670.5 220.6,670.5 221.6,670.5 222.5,670.5 223.5,670.5 224.4,670.5 225.3,670.5 226.3,670.5 227.2,670.5 228.2,670.5 229.1,670.5 230.0,670.5 231.0,670.5 231.9,670.5 232.9,670.5 233.8,670.5 234.7,670.5 235.7,670.5 236.6,670.5 237.6,670.5 238.5,670.5 239.4,670.5 240.4,670.5 241.3,670.5 242.3,670.5 243.2,670.5 244.1,670.5 245.1,669.3 246.0,664.7 246.9,659.5 247.9,654.4 248.8,649.3 249.8,644.2 250.7,639.0 251.6,633.9 252.6,628.8 253.5,623.6 254.5,618.5 255.4,613.4 256.3,608.2 257.3,603.1 258.2,598.0 259.2,592.8 260.1,587.7 261.0,582.6 262.0,577.4 262.9,572.3 263.9,567.2 264.8,562.0 265.7,557.6 266.7,556.9 267.6,556.9 268.6,556.9 269.5,556.9 270.4,556.9 271.4,556.9 272.3,556.9 273.3,556.9 274.2,556.9 275.1,556.9 276.1,556.9 277.0,556.9 278.0,556.9 278.9,556.9 279.8,556.9 280.8,556.9 281.7,556.9 282.7,556.9 283.6,556.9 284.5,556.9 285.5,556.9 286.4,556.9 287.4,556.9 288.3,556.9 289.2,556.9 290.2,556.9 291.1,556.9 292.1,556.9 293.0,556.9 293.9,556.9 294.9,556.9 295.8,556.9 296.8,556.9 297.7,556.9 298.6,556.9 299.6,556.9 300.5,556.9 301.5,556.9 302.4,556.9 303.3,559.7 304.3,635.0 305.2,670.3 306.2,670.5 307.1,670.5 308.0,670.5 309.0,670.5 309.9,670.5 310.9,670.5 311.8,670.5 312.7,670.5 313.7,670.5 314.6,670.5 315.6,670.5 316.5,670.5 317.4,670.5 318.4,670.5 319.3,670.5 320.2,670.5 321.2,670.5 322.1,670.5 323.1,670.5 324.0,670.5 324.9,670.5 325.9,670.5 326.8,670.5 327.8,670.5 328.7,670.5 329.6,670.5 330.6,670.5" fill="none" stroke="none" marker-start="url(#mk)" marker-mid="url(#mk)" marker-end="url(#mk)"/>
</g>
<rect x="199.4" y="545.0" width="139.79999999999998" height="127.39999999999998" fill="none" stroke="#444" stroke-width="1.05"/>
<text x="205.60" y="678.00" font-size="4.9" text-anchor="middle" class="s">0</text>
<text x="230.66" y="678.00" font-size="4.9" text-anchor="middle" class="s">0.2</text>
<text x="255.72" y="678.00" font-size="4.9" text-anchor="middle" class="s">0.4</text>
<text x="280.78" y="678.00" font-size="4.9" text-anchor="middle" class="s">0.6</text>
<text x="305.84" y="678.00" font-size="4.9" text-anchor="middle" class="s">0.8</text>
<text x="330.90" y="678.00" font-size="4.9" text-anchor="middle" class="s">1</text>
<text x="198.00" y="672.25" font-size="4.9" text-anchor="end" class="s">0</text>
<text x="198.00" y="647.75" font-size="4.9" text-anchor="end" class="s">0.2</text>
<text x="198.00" y="623.25" font-size="4.9" text-anchor="end" class="s">0.4</text>
<text x="198.00" y="598.75" font-size="4.9" text-anchor="end" class="s">0.6</text>
<text x="198.00" y="574.25" font-size="4.9" text-anchor="end" class="s">0.8</text>
<text x="198.00" y="549.75" font-size="4.9" text-anchor="end" class="s">1</text>
<path d="M205.60 672.4v-1.6M205.60 545.0v1.6M230.66 672.4v-1.6M230.66 545.0v1.6M255.72 672.4v-1.6M255.72 545.0v1.6M280.78 672.4v-1.6M280.78 545.0v1.6M305.84 672.4v-1.6M305.84 545.0v1.6M330.90 672.4v-1.6M330.90 545.0v1.6M199.4 670.50h1.6M339.2 670.50h-1.6M199.4 646.00h1.6M339.2 646.00h-1.6M199.4 621.50h1.6M339.2 621.50h-1.6M199.4 597.00h1.6M339.2 597.00h-1.6M199.4 572.50h1.6M339.2 572.50h-1.6M199.4 548.00h1.6M339.2 548.00h-1.6" stroke="#222" stroke-width="1"/>
<text x="188.2" y="610" font-size="9.2" font-style="italic" text-anchor="middle" fill="#333" transform="rotate(-90 188.2 610)">u</text>
<text x="269.10" y="686.20" font-size="9.6" font-style="italic" text-anchor="middle" fill="#3a3a3a">x</text>
<line x1="199.8" y1="548.7" x2="221" y2="548.7" stroke="#d82424" stroke-width="1.05"/>
<circle cx="210.40" cy="548.7" r="0.9" fill="#e04a6a"/>
<text x="224.8" y="550.5" font-size="5.3" font-style="italic" font-weight="normal" fill="#000" stroke="#000" stroke-width="0.14" textLength="37.5" lengthAdjust="spacingAndGlyphs">FFMI-GNN rollout</text>
<line x1="199.8" y1="554.4" x2="221" y2="554.4" stroke="#202020" stroke-width="1.05"/>
<circle cx="210.40" cy="554.4" r="0.9" fill="#1c1648"/>
<text x="224.8" y="556.1999999999999" font-size="5.3" font-style="italic" font-weight="normal" fill="#000" stroke="#000" stroke-width="0.14" textLength="35.8" lengthAdjust="spacingAndGlyphs">FFMI-GNN 1-step</text>
<line x1="199.8" y1="559.8" x2="221" y2="559.8" stroke="#6a6ae8" stroke-width="1.2"/>
<text x="224.8" y="561.5999999999999" font-size="5.3" font-style="italic" font-weight="normal" fill="#000" stroke="#000" stroke-width="0.14" textLength="24.8" lengthAdjust="spacingAndGlyphs">Ground truth</text>
<rect x="204.2" y="584.4" width="46.900000000000006" height="26.399999999999977" fill="#fff" stroke="#ababab" stroke-width="0.75"/>
<polyline points="218.4,608.4 223.2,594 225,592.6 245.3,592.4" fill="none" stroke="#8888a8" stroke-width="0.8" stroke-linejoin="round"/>
<polyline points="216.9,608.4 220.6,593.6 222.5,592.4 245.3,592.4" fill="none" stroke="#3a2a40" stroke-width="0.9" stroke-linejoin="round"/>
<polyline points="214.1,608.4 217.9,593.1 219.8,592.4 245.3,592.4" fill="none" stroke="#b05050" stroke-width="0.9" stroke-linejoin="round"/>
<polyline points="228,591.6 245.3,591.6" fill="none" stroke="#b080d0" stroke-width="0.8" stroke-linejoin="round"/>
<rect x="263.3" y="551.9" width="9.599999999999966" height="10.800000000000068" fill="none" stroke="#d23cd2" stroke-width="0.9"/>
<line x1="264.2" y1="563" x2="243.60" y2="581.18" stroke="#d23cd2" stroke-width="0.9"/>
<polygon points="241.2,583.3 242.67,580.13 244.53,582.23" fill="#d23cd2"/>
<clipPath id="c11"><rect x="378.5" y="545.2" width="139.10000000000002" height="127.29999999999995"/></clipPath>
<g clip-path="url(#c11)">
<polyline points="381.2,549.5 420.8,549.5 421.8,549.6 422.1,550.0 422.5,551.0 422.8,552.6 425.1,566.3 427.4,578.8 429.7,590.1 432.3,601.6 435.9,620.7 436.2,621.3 439.5,621.3 439.8,621.8 443.4,637.4 444.1,638.6 444.4,638.9 445.1,639.0 482.4,639.0 483.1,639.1 483.4,639.8 483.7,642.6 484.7,662.1 485.0,664.4 485.3,665.0 486.0,665.0 512.2,665.0" fill="none" stroke="#e04a6a" stroke-width="1.35" stroke-linejoin="round"/>
<polyline points="381.2,549.5 382.2,549.5 383.2,549.5 384.1,549.5 385.1,549.5 386.1,549.5 387.1,549.5 388.1,549.5 389.1,549.5 390.0,549.5 391.0,549.5 392.0,549.5 393.0,549.5 394.0,549.5 395.0,549.5 395.9,549.5 396.9,549.5 397.9,549.5 398.9,549.5 399.9,549.5 400.9,549.5 401.8,549.5 402.8,549.5 403.8,549.5 404.8,549.5 405.8,549.5 406.7,549.5 407.7,549.5 408.7,549.5 409.7,549.5 410.7,549.5 411.7,549.5 412.6,549.5 413.6,549.5 414.6,549.5 415.6,549.5 416.6,549.5 417.6,549.5 418.5,549.5 419.5,549.5 420.5,549.5 421.5,549.5 422.5,551.0 423.4,556.5 424.4,562.5 425.4,568.1 426.4,573.6 427.4,578.8 428.4,583.8 429.3,588.6 430.3,593.1 431.3,597.5 432.3,601.6 433.3,606.8 434.3,612.0 435.2,617.3 436.2,621.3 437.2,621.3 438.2,621.3 439.2,621.3 440.2,623.2 441.1,627.5 442.1,631.7 443.1,636.0 444.1,638.6 445.1,639.0 446.0,639.0 447.0,639.0 448.0,639.0 449.0,639.0 450.0,639.0 451.0,639.0 451.9,639.0 452.9,639.0 453.9,639.0 454.9,639.0 455.9,639.0 456.9,639.0 457.8,639.0 458.8,639.0 459.8,639.0 460.8,639.0 461.8,639.0 462.7,639.0 463.7,639.0 464.7,639.0 465.7,639.0 466.7,639.0 467.7,639.0 468.6,639.0 469.6,639.0 470.6,639.0 471.6,639.0 472.6,639.0 473.6,639.0 474.5,639.0 475.5,639.0 476.5,639.0 477.5,639.0 478.5,639.0 479.5,639.0 480.4,639.0 481.4,639.0 482.4,639.0 483.4,639.8 484.4,656.6 485.3,665.0 486.3,665.0 487.3,665.0 488.3,665.0 489.3,665.0 490.3,665.0 491.2,665.0 492.2,665.0 493.2,665.0 494.2,665.0 495.2,665.0 496.2,665.0 497.1,665.0 498.1,665.0 499.1,665.0 500.1,665.0 501.1,665.0 502.0,665.0 503.0,665.0 504.0,665.0 505.0,665.0 506.0,665.0 507.0,665.0 507.9,665.0 508.9,665.0 509.9,665.0 510.9,665.0 511.9,665.0" fill="none" stroke="none" marker-start="url(#mr)" marker-mid="url(#mr)" marker-end="url(#mr)"/>
<polyline points="381.2,549.5 421.8,549.6 422.1,549.9 422.5,550.9 422.8,552.5 425.7,570.0 428.7,585.4 430.7,594.6 432.9,604.3 435.6,614.2 438.5,624.0 441.5,632.4 443.4,637.4 444.1,638.7 444.4,638.9 445.1,639.0 483.1,639.0 483.4,639.4 483.7,641.7 484.4,657.3 484.7,663.0 485.0,664.7 485.3,665.0 485.7,665.0 512.2,665.0" fill="none" stroke="#4a44c0" stroke-width="1.25" stroke-linejoin="round"/>
<polyline points="381.2,549.5 421.2,549.5 421.8,549.6 422.1,550.0 422.5,550.9 422.8,552.5 425.7,570.0 428.7,585.4 430.7,594.6 432.9,604.3 435.6,614.2 438.5,624.0 441.8,633.3 443.4,637.4 444.1,638.6 444.4,638.9 445.1,639.0 483.1,639.0 483.4,639.6 483.7,642.2 484.7,662.6 485.0,664.6 485.3,665.0 512.2,665.0" fill="none" stroke="#1c1648" stroke-width="0.45" stroke-linejoin="round"/>
<polyline points="381.2,549.5 382.2,549.5 383.2,549.5 384.1,549.5 385.1,549.5 386.1,549.5 387.1,549.5 388.1,549.5 389.1,549.5 390.0,549.5 391.0,549.5 392.0,549.5 393.0,549.5 394.0,549.5 395.0,549.5 395.9,549.5 396.9,549.5 397.9,549.5 398.9,549.5 399.9,549.5 400.9,549.5 401.8,549.5 402.8,549.5 403.8,549.5 404.8,549.5 405.8,549.5 406.7,549.5 407.7,549.5 408.7,549.5 409.7,549.5 410.7,549.5 411.7,549.5 412.6,549.5 413.6,549.5 414.6,549.5 415.6,549.5 416.6,549.5 417.6,549.5 418.5,549.5 419.5,549.5 420.5,549.5 421.5,549.5 422.5,550.9 423.4,556.5 424.4,562.5 425.4,568.1 426.4,573.6 427.4,578.8 428.4,583.8 429.3,588.6 430.3,593.1 431.3,597.5 432.3,601.6 433.3,605.6 434.3,609.4 435.2,613.1 436.2,616.5 437.2,619.8 438.2,623.0 439.2,626.0 440.2,628.8 441.1,631.5 442.1,634.1 443.1,636.6 444.1,638.6 445.1,639.0 446.0,639.0 447.0,639.0 448.0,639.0 449.0,639.0 450.0,639.0 451.0,639.0 451.9,639.0 452.9,639.0 453.9,639.0 454.9,639.0 455.9,639.0 456.9,639.0 457.8,639.0 458.8,639.0 459.8,639.0 460.8,639.0 461.8,639.0 462.7,639.0 463.7,639.0 464.7,639.0 465.7,639.0 466.7,639.0 467.7,639.0 468.6,639.0 469.6,639.0 470.6,639.0 471.6,639.0 472.6,639.0 473.6,639.0 474.5,639.0 475.5,639.0 476.5,639.0 477.5,639.0 478.5,639.0 479.5,639.0 480.4,639.0 481.4,639.0 482.4,639.0 483.4,639.6 484.4,656.9 485.3,665.0 486.3,665.0 487.3,665.0 488.3,665.0 489.3,665.0 490.3,665.0 491.2,665.0 492.2,665.0 493.2,665.0 494.2,665.0 495.2,665.0 496.2,665.0 497.1,665.0 498.1,665.0 499.1,665.0 500.1,665.0 501.1,665.0 502.0,665.0 503.0,665.0 504.0,665.0 505.0,665.0 506.0,665.0 507.0,665.0 507.9,665.0 508.9,665.0 509.9,665.0 510.9,665.0 511.9,665.0" fill="none" stroke="none" marker-start="url(#mk)" marker-mid="url(#mk)" marker-end="url(#mk)"/>
</g>
<rect x="378.5" y="545.2" width="139.10000000000002" height="127.29999999999995" fill="none" stroke="#444" stroke-width="1.05"/>
<text x="381.20" y="678.10" font-size="4.9" text-anchor="middle" class="s">0</text>
<text x="407.40" y="678.10" font-size="4.9" text-anchor="middle" class="s">0.2</text>
<text x="433.60" y="678.10" font-size="4.9" text-anchor="middle" class="s">0.4</text>
<text x="459.80" y="678.10" font-size="4.9" text-anchor="middle" class="s">0.6</text>
<text x="486.00" y="678.10" font-size="4.9" text-anchor="middle" class="s">0.8</text>
<text x="512.20" y="678.10" font-size="4.9" text-anchor="middle" class="s">1</text>
<text x="376.40" y="653.95" font-size="4.9" text-anchor="end" class="s">0.2</text>
<text x="376.40" y="628.28" font-size="4.9" text-anchor="end" class="s">0.4</text>
<text x="376.40" y="602.60" font-size="4.9" text-anchor="end" class="s">0.6</text>
<text x="376.40" y="576.92" font-size="4.9" text-anchor="end" class="s">0.8</text>
<text x="376.40" y="551.25" font-size="4.9" text-anchor="end" class="s">1</text>
<path d="M381.20 672.5v-1.6M381.20 545.2v1.6M407.40 672.5v-1.6M407.40 545.2v1.6M433.60 672.5v-1.6M433.60 545.2v1.6M459.80 672.5v-1.6M459.80 545.2v1.6M486.00 672.5v-1.6M486.00 545.2v1.6M512.20 672.5v-1.6M512.20 545.2v1.6M378.5 652.20h1.6M517.6 652.20h-1.6M378.5 626.53h1.6M517.6 626.53h-1.6M378.5 600.85h1.6M517.6 600.85h-1.6M378.5 575.17h1.6M517.6 575.17h-1.6M378.5 549.50h1.6M517.6 549.50h-1.6" stroke="#222" stroke-width="1"/>
<text x="367" y="609.5" font-size="9.2" font-style="italic" text-anchor="middle" fill="#333" transform="rotate(-90 367 609.5)">p</text>
<text x="447.90" y="686.30" font-size="9.6" font-style="italic" text-anchor="middle" fill="#3a3a3a">x</text>
<line x1="453.1" y1="554.2" x2="472.6" y2="554.2" stroke="#d82424" stroke-width="1.05"/>
<circle cx="462.85" cy="554.2" r="0.9" fill="#e04a6a"/>
<text x="476.9" y="556.0" font-size="5.3" font-style="italic" font-weight="normal" fill="#000" stroke="#000" stroke-width="0.14" textLength="37.7" lengthAdjust="spacingAndGlyphs">FFMI-GNN rollout</text>
<line x1="453.1" y1="559.6" x2="472.6" y2="559.6" stroke="#202020" stroke-width="1.05"/>
<circle cx="462.85" cy="559.6" r="0.9" fill="#1c1648"/>
<text x="476.9" y="561.4" font-size="5.3" font-style="italic" font-weight="normal" fill="#000" stroke="#000" stroke-width="0.14" textLength="36" lengthAdjust="spacingAndGlyphs">FFMI-GNN 1-step</text>
<line x1="453.1" y1="565" x2="472.6" y2="565" stroke="#6a6ae8" stroke-width="1.2"/>
<text x="476.9" y="566.8" font-size="5.3" font-style="italic" font-weight="normal" fill="#000" stroke="#000" stroke-width="0.14" textLength="25" lengthAdjust="spacingAndGlyphs">Ground truth</text>
<rect x="464.2" y="591.2" width="47.30000000000001" height="27.299999999999955" fill="#fff" stroke="#ababab" stroke-width="0.75"/>
<polyline points="488,598.5 489.5,598.3 493,613.5" fill="none" stroke="#505060" stroke-width="0.8" stroke-linejoin="round"/>
<polyline points="489.5,597.8 491.5,598.4 496.5,615.5" fill="none" stroke="#505060" stroke-width="0.8" stroke-linejoin="round"/>
<polyline points="470,598.5 488,598.5 489,597.6 490.5,598.5" fill="none" stroke="#3a2a40" stroke-width="0.9" stroke-dasharray="1.3 0.7" stroke-linejoin="round"/>
<rect x="477.4" y="635.6" width="9.700000000000045" height="12.100000000000023" fill="none" stroke="#d23cd2" stroke-width="0.9"/>
<line x1="482" y1="635" x2="494.31" y2="621.84" stroke="#d23cd2" stroke-width="0.9"/>
<polygon points="496.5,619.5 495.34,622.79 493.29,620.88" fill="#d23cd2"/>
<text x="265.6" y="166" font-size="13.2" text-anchor="middle" fill="#111" stroke="#111" stroke-width="0.12">(a)</text>
<text x="265.6" y="346" font-size="13.2" text-anchor="middle" fill="#111" stroke="#111" stroke-width="0.12">(b)</text>
<text x="265.6" y="527" font-size="13.2" text-anchor="middle" fill="#111" stroke="#111" stroke-width="0.12">(c)</text>
<text x="267" y="709" font-size="13.2" text-anchor="middle" fill="#111" stroke="#111" stroke-width="0.12">(d)</text>
</g></svg></div>
</body></html>
